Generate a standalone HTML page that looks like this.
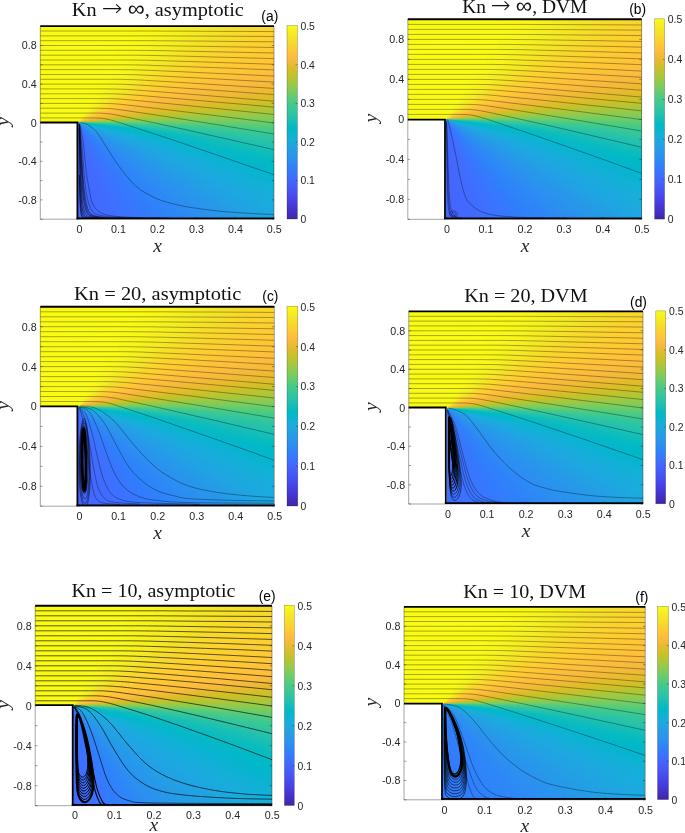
<!DOCTYPE html>
<html lang="en"><head><meta charset="utf-8"><title>Flow over a backward-facing step</title>
<style>
html,body{margin:0;padding:0;background:#fff}
#fig{position:relative;width:685px;height:833px;overflow:hidden;background:#fff}
.fld{position:absolute}
svg{position:absolute;left:0;top:0}
.t{font-family:"Liberation Sans",Arial,Helvetica,sans-serif;font-size:10.7px;fill:#262626}
.c{font-size:10.4px}
.pl{font-family:"Liberation Sans",Arial,Helvetica,sans-serif;font-size:13.8px;fill:#000}
.m{font-family:"Liberation Serif","DejaVu Serif",serif;font-style:italic;font-size:19.5px;fill:#262626}
.sy{font-family:"DejaVu Sans","Liberation Sans",sans-serif;font-weight:200}
.ti{font-family:"Liberation Serif","DejaVu Serif",serif;font-size:18.7px;fill:#111}
</style></head><body>
<div id="fig">
<div class="fld" style="left:40.3px;top:26.2px;width:233.7px;height:193px;background:linear-gradient(165deg,#f9fb15 35%,#fdb92f 47%,#12bebb 62%,#2e6ffb 92%);background:conic-gradient(from 0deg at 37.7px 96.3px,#f9fb15 0deg,#f9fb15 2deg,#f9fb15 4deg,#f9fb15 6deg,#f9fb15 8deg,#f9fb15 10deg,#f9fb15 12deg,#f9fb15 14deg,#f9fb15 16deg,#f9fb15 18deg,#f9fb15 20deg,#f9fb15 22deg,#f9fb15 24deg,#f9fb15 26deg,#f9fb15 28deg,#f9fa15 30deg,#f9fa16 32deg,#f9f916 34deg,#f8f917 36deg,#f8f818 38deg,#f8f719 40deg,#f7f51b 42deg,#f7f41c 44deg,#f6f21e 46deg,#f6f01f 48deg,#f5ee21 50deg,#f5eb23 52deg,#f5ea24 53deg,#f5e825 54deg,#f5e626 55deg,#f5e526 56deg,#f5e327 57deg,#f6e128 58deg,#f6df29 59deg,#f7dd2a 60deg,#f7db2b 61deg,#f8d92c 62deg,#f9d72d 63deg,#fad52e 64deg,#fbd32e 65deg,#fcd12f 66deg,#fccf30 67deg,#fdce31 68deg,#fdcc32 69deg,#feca33 70deg,#fec834 71deg,#fec636 72deg,#fec437 73deg,#fec239 74deg,#fec03b 75deg,#febd3c 76deg,#fbbc3d 77deg,#f8ba3d 78deg,#f5ba3a 79deg,#f0ba36 80deg,#ebba31 81deg,#e4bb2c 82deg,#dbbd28 83deg,#cfc028 84deg,#c2c22c 85deg,#b3c534 86deg,#a4c83e 87deg,#92ca4b 88deg,#80cc59 89deg,#6dcd68 90deg,#5bcc77 91deg,#4acb84 92deg,#3eca90 93deg,#35c799 94deg,#30c5a2 95deg,#2ac3a9 96deg,#23c1af 97deg,#1bc0b4 98deg,#12beb9 99deg,#0abdbd 100deg,#04bbc1 101deg,#02bac5 102deg,#01b8c8 103deg,#02b7cb 104deg,#05b6ce 105deg,#08b5d0 106deg,#0bb3d2 107deg,#0fb2d5 108deg,#12b1d7 109deg,#15afd8 110deg,#17aeda 111deg,#19addc 112deg,#1aacdd 113deg,#1baade 114deg,#1da8e0 115deg,#1ea6e1 116deg,#20a4e3 117deg,#22a2e4 118deg,#23a0e5 119deg,#249ee6 120deg,#259be7 121deg,#269ae9 122deg,#2798ea 123deg,#2896ec 124deg,#2994ed 125deg,#2a92ee 126deg,#2b91ef 127deg,#2c8ff1 128deg,#2d8df2 129deg,#2d8cf3 130deg,#2d8af4 131deg,#2d89f5 132deg,#2d87f6 133deg,#2e86f7 134deg,#2e85f8 135deg,#2e83f9 136deg,#2f82fa 137deg,#2f81fa 138deg,#307ffb 139deg,#317efb 140deg,#327cfc 142deg,#347afd 144deg,#3678fe 146deg,#3876fe 148deg,#3974fe 150deg,#3b73fe 152deg,#3c71ff 154deg,#3e70ff 156deg,#3f6eff 158deg,#406dfe 160deg,#406cfe 162deg,#416bfe 164deg,#426afe 166deg,#4269fe 168deg,#4368fe 170deg,#4368fe 172deg,#4367fd 174deg,#4367fd 176deg,#4466fd 178deg,#4466fd 180deg,#fff 180.1deg,#fff 269.9deg,#f9fb15 270deg,#f9fb15 360deg)"></div>
<div class="fld" style="left:40.3px;top:26.2px;width:233.7px;height:193px;background:conic-gradient(from 0deg at 37.7px 96.3px,#f9fb15 0deg,#f9fb15 2deg,#f9fb15 4deg,#f9fb15 6deg,#f9fb15 8deg,#f9fb15 10deg,#f9fb15 12deg,#f9fb15 14deg,#f9fb15 16deg,#f9fb15 18deg,#f9fb15 20deg,#f9fb15 22deg,#f9fb15 24deg,#f9fb15 26deg,#f9fb15 28deg,#f9fa15 30deg,#f9fa16 32deg,#f9f916 34deg,#f8f917 36deg,#f8f818 38deg,#f8f719 40deg,#f7f51b 42deg,#f7f41c 44deg,#f6f21e 46deg,#f6f01f 48deg,#f5ee21 50deg,#f5eb23 52deg,#f5ea24 53deg,#f5e825 54deg,#f5e626 55deg,#f5e427 56deg,#f5e227 57deg,#f6e028 58deg,#f6de29 59deg,#f7db2a 60deg,#f8d92c 61deg,#f9d62d 62deg,#fad42e 63deg,#fbd22f 64deg,#fccf30 65deg,#fdcd31 66deg,#fdcb32 67deg,#fec934 68deg,#fec735 69deg,#fec537 70deg,#fec338 71deg,#fec03a 72deg,#febe3c 73deg,#fcbc3d 74deg,#fabb3d 75deg,#f8ba3d 76deg,#f5ba3a 77deg,#f2ba37 78deg,#eeba34 79deg,#ebba31 80deg,#e6bb2d 81deg,#dfbc2a 82deg,#d6be28 83deg,#cbc029 84deg,#bfc32d 85deg,#b2c635 86deg,#a3c83f 87deg,#92ca4b 88deg,#80cc59 89deg,#6dcd68 90deg,#4fcc80 91deg,#3ac994 92deg,#2fc5a3 93deg,#25c2ae 94deg,#18bfb6 95deg,#0abdbd 96deg,#02bac3 97deg,#01b9c7 98deg,#02b7cb 99deg,#06b5ce 100deg,#0ab4d1 101deg,#0fb2d4 102deg,#13b1d7 103deg,#15afd9 104deg,#18aedb 105deg,#19acdc 106deg,#1babde 107deg,#1ca9e0 108deg,#1ea7e1 109deg,#1fa5e2 110deg,#21a4e3 111deg,#22a2e4 112deg,#23a0e5 113deg,#249fe6 114deg,#249de6 115deg,#259ce7 116deg,#269ae8 117deg,#2699e9 118deg,#2797ea 119deg,#2896eb 120deg,#2995ec 121deg,#2a93ed 122deg,#2a92ee 123deg,#2b91ef 124deg,#2c90f0 125deg,#2c8ef1 126deg,#2d8df2 127deg,#2d8cf3 128deg,#2d8bf4 129deg,#2d89f5 130deg,#2d88f6 131deg,#2e87f7 132deg,#2e86f7 133deg,#2e85f8 134deg,#2e84f8 135deg,#2e83f9 136deg,#2f82fa 137deg,#2f81fa 138deg,#307ffb 139deg,#317efb 140deg,#327cfc 142deg,#347afd 144deg,#3678fe 146deg,#3876fe 148deg,#3974fe 150deg,#3b73fe 152deg,#3c71ff 154deg,#3e70ff 156deg,#3f6eff 158deg,#406dfe 160deg,#406cfe 162deg,#416bfe 164deg,#426afe 166deg,#4269fe 168deg,#4368fe 170deg,#4368fe 172deg,#4367fd 174deg,#4367fd 176deg,#4466fd 178deg,#4466fd 180deg,#fff 180.1deg,#fff 269.9deg,#f9fb15 270deg,#f9fb15 360deg);-webkit-mask-image:radial-gradient(circle at 37.7px 96.3px,#000 50px,transparent 200px);mask-image:radial-gradient(circle at 37.7px 96.3px,#000 50px,transparent 200px)"></div>
<div class="fld" style="left:407.8px;top:19.4px;width:233.8px;height:199.9px;background:linear-gradient(165deg,#f9fb15 35%,#fdb92f 47%,#12bebb 62%,#2e6ffb 92%);background:conic-gradient(from 0deg at 37.8px 100.3px,#f9fb15 0deg,#f9fb15 2deg,#f9fb15 4deg,#f9fb15 6deg,#f9fb15 8deg,#f9fb15 10deg,#f9fb15 12deg,#f9fb15 14deg,#f9fb15 16deg,#f9fb15 18deg,#f9fb15 20deg,#f9fb15 22deg,#f9fb15 24deg,#f9fb15 26deg,#f9fa15 28deg,#f9fa15 30deg,#f9fa16 32deg,#f9f916 34deg,#f8f817 36deg,#f8f718 38deg,#f8f61a 40deg,#f7f51b 42deg,#f7f31d 44deg,#f6f11e 46deg,#f6ef20 48deg,#f5ec22 50deg,#f5ea24 52deg,#f5e825 53deg,#f5e625 54deg,#f5e526 55deg,#f5e327 56deg,#f5e128 57deg,#f6df29 58deg,#f7dd2a 59deg,#f7db2b 60deg,#f8d92c 61deg,#f9d72c 62deg,#fad52d 63deg,#fbd32e 64deg,#fbd22f 65deg,#fcd030 66deg,#fdce31 67deg,#fdcd32 68deg,#fdcb33 69deg,#fec934 70deg,#fec735 71deg,#fec537 72deg,#fec338 73deg,#fec13a 74deg,#febf3c 75deg,#fdbd3d 76deg,#fabb3d 77deg,#f7ba3c 78deg,#f3ba39 79deg,#efba35 80deg,#e9bb30 81deg,#e2bc2b 82deg,#d8be28 83deg,#cdc028 84deg,#c0c32d 85deg,#b1c635 86deg,#a2c840 87deg,#91ca4c 88deg,#7fcc5a 89deg,#6dcd68 90deg,#5bcc76 91deg,#4bcb83 92deg,#3fca8e 93deg,#36c898 94deg,#31c6a1 95deg,#2bc3a8 96deg,#25c2ae 97deg,#1dc0b3 98deg,#15bfb8 99deg,#0cbdbc 100deg,#06bcc0 101deg,#02bac4 102deg,#01b9c7 103deg,#01b8ca 104deg,#04b6cd 105deg,#06b5cf 106deg,#09b4d1 107deg,#0db3d3 108deg,#11b2d5 109deg,#13b0d7 110deg,#15afd9 111deg,#18aedb 112deg,#19addc 113deg,#1aabdd 114deg,#1caadf 115deg,#1da8e0 116deg,#1fa6e2 117deg,#20a4e3 118deg,#22a2e4 119deg,#239fe5 120deg,#249de6 121deg,#259be8 122deg,#2699e9 123deg,#2798ea 124deg,#2896ec 125deg,#2994ed 126deg,#2a92ee 127deg,#2b91ef 128deg,#2c8ff1 129deg,#2d8df2 130deg,#2d8cf3 131deg,#2d8af4 132deg,#2d89f5 133deg,#2d87f7 134deg,#2e86f7 135deg,#2e85f8 136deg,#2e83f9 137deg,#2f82fa 138deg,#2f81fa 139deg,#307ffb 140deg,#317dfc 142deg,#337bfd 144deg,#3579fd 146deg,#3777fe 148deg,#3975fe 150deg,#3a73fe 152deg,#3c72ff 154deg,#3d70ff 156deg,#3e6fff 158deg,#3f6dfe 160deg,#406cfe 162deg,#416bfe 164deg,#426afe 166deg,#4269fe 168deg,#4368fe 170deg,#4368fe 172deg,#4367fd 174deg,#4367fd 176deg,#4466fd 178deg,#4466fd 180deg,#fff 180.1deg,#fff 269.9deg,#f9fb15 270deg,#f9fb15 360deg)"></div>
<div class="fld" style="left:407.8px;top:19.4px;width:233.8px;height:199.9px;background:conic-gradient(from 0deg at 37.8px 100.3px,#f9fb15 0deg,#f9fb15 2deg,#f9fb15 4deg,#f9fb15 6deg,#f9fb15 8deg,#f9fb15 10deg,#f9fb15 12deg,#f9fb15 14deg,#f9fb15 16deg,#f9fb15 18deg,#f9fb15 20deg,#f9fb15 22deg,#f9fb15 24deg,#f9fb15 26deg,#f9fa15 28deg,#f9fa15 30deg,#f9fa16 32deg,#f9f916 34deg,#f8f817 36deg,#f8f718 38deg,#f8f61a 40deg,#f7f51b 42deg,#f7f31d 44deg,#f6f11e 46deg,#f6ef20 48deg,#f5ec22 50deg,#f5ea24 52deg,#f5e825 53deg,#f5e626 54deg,#f5e426 55deg,#f5e227 56deg,#f6e028 57deg,#f6de29 58deg,#f7db2a 59deg,#f8d92b 60deg,#f9d72d 61deg,#fad42e 62deg,#fbd22f 63deg,#fcd030 64deg,#fdce31 65deg,#fdcc32 66deg,#feca33 67deg,#fec835 68deg,#fec636 69deg,#fec438 70deg,#fec13a 71deg,#febf3b 72deg,#fdbd3d 73deg,#fbbc3d 74deg,#f9bb3d 75deg,#f7ba3c 76deg,#f3ba39 77deg,#f0ba36 78deg,#edba33 79deg,#e9bb30 80deg,#e4bb2c 81deg,#ddbd29 82deg,#d4bf28 83deg,#c9c129 84deg,#bdc32e 85deg,#b0c636 86deg,#a1c840 87deg,#91ca4c 88deg,#7fcc5a 89deg,#6dcd68 90deg,#50cc80 91deg,#3bc993 92deg,#30c5a2 93deg,#26c2ad 94deg,#1abfb5 95deg,#0dbdbc 96deg,#04bbc2 97deg,#01b9c6 98deg,#01b8ca 99deg,#05b6cd 100deg,#08b4d0 101deg,#0db3d3 102deg,#11b1d6 103deg,#14b0d8 104deg,#16aeda 105deg,#19addb 106deg,#1aacdd 107deg,#1baade 108deg,#1da8e0 109deg,#1fa6e1 110deg,#20a5e3 111deg,#21a3e3 112deg,#22a1e4 113deg,#23a0e5 114deg,#249ee6 115deg,#259de7 116deg,#259be7 117deg,#269ae9 118deg,#2699ea 119deg,#2797eb 120deg,#2896eb 121deg,#2995ec 122deg,#2a93ed 123deg,#2b92ee 124deg,#2b91ef 125deg,#2c8ff0 126deg,#2c8ef1 127deg,#2d8df2 128deg,#2d8cf3 129deg,#2d8bf4 130deg,#2d89f5 131deg,#2d88f6 132deg,#2e87f7 133deg,#2e86f7 134deg,#2e85f8 135deg,#2e84f8 136deg,#2e83f9 137deg,#2f82fa 138deg,#2f81fa 139deg,#307ffb 140deg,#317dfc 142deg,#337bfd 144deg,#3579fd 146deg,#3777fe 148deg,#3975fe 150deg,#3a73fe 152deg,#3c72ff 154deg,#3d70ff 156deg,#3e6fff 158deg,#3f6dfe 160deg,#406cfe 162deg,#416bfe 164deg,#426afe 166deg,#4269fe 168deg,#4368fe 170deg,#4368fe 172deg,#4367fd 174deg,#4367fd 176deg,#4466fd 178deg,#4466fd 180deg,#fff 180.1deg,#fff 269.9deg,#f9fb15 270deg,#f9fb15 360deg);-webkit-mask-image:radial-gradient(circle at 37.8px 100.3px,#000 50px,transparent 200px);mask-image:radial-gradient(circle at 37.8px 100.3px,#000 50px,transparent 200px)"></div>
<div class="fld" style="left:40.3px;top:306.8px;width:234.1px;height:199.4px;background:linear-gradient(165deg,#f9fb15 35%,#fdb92f 47%,#12bebb 62%,#2e6ffb 92%);background:conic-gradient(from 0deg at 37.7px 99.5px,#f9fb15 0deg,#f9fb15 2deg,#f9fb15 4deg,#f9fb15 6deg,#f9fb15 8deg,#f9fb15 10deg,#f9fb15 12deg,#f9fb15 14deg,#f9fb15 16deg,#f9fb15 18deg,#f9fb15 20deg,#f9fb15 22deg,#f9fb15 24deg,#f9fb15 26deg,#f9fa15 28deg,#f9fa15 30deg,#f9fa16 32deg,#f9f916 34deg,#f8f817 36deg,#f8f718 38deg,#f8f61a 40deg,#f7f51b 42deg,#f7f31d 44deg,#f6f11e 46deg,#f6ef20 48deg,#f5ed22 50deg,#f5ea24 52deg,#f5e825 53deg,#f5e725 54deg,#f5e526 55deg,#f5e327 56deg,#f5e128 57deg,#f6df29 58deg,#f6dd29 59deg,#f7db2a 60deg,#f8d92b 61deg,#f9d72c 62deg,#fad52d 63deg,#fbd32e 64deg,#fbd22f 65deg,#fcd030 66deg,#fdce31 67deg,#fdcd32 68deg,#fdcb33 69deg,#fec934 70deg,#fec735 71deg,#fec537 72deg,#fec338 73deg,#fec13a 74deg,#febf3c 75deg,#fdbd3d 76deg,#fabb3d 77deg,#f7ba3c 78deg,#f3ba39 79deg,#efba35 80deg,#e9bb30 81deg,#e2bc2b 82deg,#d8be28 83deg,#cdc028 84deg,#c0c32d 85deg,#b2c635 86deg,#a2c83f 87deg,#91ca4c 88deg,#7fcc5a 89deg,#6dcd68 90deg,#5bcc76 91deg,#4bcb83 92deg,#3eca8f 93deg,#36c898 94deg,#31c5a1 95deg,#2bc3a8 96deg,#25c2ae 97deg,#1cc0b3 98deg,#14bfb8 99deg,#0cbdbc 100deg,#06bcc0 101deg,#02bac4 102deg,#01b9c7 103deg,#01b8ca 104deg,#04b6cd 105deg,#06b5cf 106deg,#0ab4d1 107deg,#0db3d4 108deg,#11b1d6 109deg,#13b0d7 110deg,#16afd9 111deg,#18aedb 112deg,#19acdc 113deg,#1aabdd 114deg,#1caadf 115deg,#1da8e0 116deg,#1fa6e2 117deg,#21a4e3 118deg,#22a1e4 119deg,#249fe5 120deg,#249de7 121deg,#259be8 122deg,#2699e9 123deg,#2797ea 124deg,#2896ec 125deg,#2994ed 126deg,#2b92ee 127deg,#2b90ef 128deg,#2c8ff1 129deg,#2d8df2 130deg,#2d8cf3 131deg,#2d8af4 132deg,#2d89f6 133deg,#2e87f7 134deg,#2e86f7 135deg,#2e84f8 136deg,#2e83f9 137deg,#2f82fa 138deg,#2f80fa 139deg,#307ffb 140deg,#317dfc 142deg,#337bfd 144deg,#3579fd 146deg,#3777fe 148deg,#3975fe 150deg,#3a73fe 152deg,#3c72ff 154deg,#3d70ff 156deg,#3f6fff 158deg,#3f6dfe 160deg,#406cfe 162deg,#416bfe 164deg,#426afe 166deg,#4269fe 168deg,#4368fe 170deg,#4368fe 172deg,#4367fd 174deg,#4367fd 176deg,#4466fd 178deg,#4466fd 180deg,#fff 180.1deg,#fff 269.9deg,#f9fb15 270deg,#f9fb15 360deg)"></div>
<div class="fld" style="left:40.3px;top:306.8px;width:234.1px;height:199.4px;background:conic-gradient(from 0deg at 37.7px 99.5px,#f9fb15 0deg,#f9fb15 2deg,#f9fb15 4deg,#f9fb15 6deg,#f9fb15 8deg,#f9fb15 10deg,#f9fb15 12deg,#f9fb15 14deg,#f9fb15 16deg,#f9fb15 18deg,#f9fb15 20deg,#f9fb15 22deg,#f9fb15 24deg,#f9fb15 26deg,#f9fa15 28deg,#f9fa15 30deg,#f9fa16 32deg,#f9f916 34deg,#f8f817 36deg,#f8f718 38deg,#f8f61a 40deg,#f7f51b 42deg,#f7f31d 44deg,#f6f11e 46deg,#f6ef20 48deg,#f5ed22 50deg,#f5ea24 52deg,#f5e825 53deg,#f5e625 54deg,#f5e426 55deg,#f5e227 56deg,#f6e028 57deg,#f6de29 58deg,#f7dc2a 59deg,#f8d92b 60deg,#f9d72d 61deg,#fad52e 62deg,#fbd22f 63deg,#fcd030 64deg,#fdce31 65deg,#fdcc32 66deg,#feca33 67deg,#fec835 68deg,#fec636 69deg,#fec438 70deg,#fec239 71deg,#febf3b 72deg,#fdbd3d 73deg,#fbbc3d 74deg,#f9bb3d 75deg,#f7ba3c 76deg,#f4ba39 77deg,#f0ba36 78deg,#edba33 79deg,#e9bb30 80deg,#e4bb2c 81deg,#ddbd29 82deg,#d4bf28 83deg,#c9c129 84deg,#bdc32e 85deg,#b0c636 86deg,#a1c840 87deg,#91ca4c 88deg,#7fcc5a 89deg,#6dcd68 90deg,#50cc80 91deg,#3bc993 92deg,#30c5a2 93deg,#26c2ad 94deg,#1abfb5 95deg,#0cbdbc 96deg,#03bbc2 97deg,#01b9c7 98deg,#01b8ca 99deg,#05b6ce 100deg,#08b4d1 101deg,#0db3d3 102deg,#11b1d6 103deg,#14b0d8 104deg,#16aeda 105deg,#19addc 106deg,#1aacdd 107deg,#1caadf 108deg,#1da8e0 109deg,#1fa6e2 110deg,#20a5e3 111deg,#21a3e3 112deg,#22a1e4 113deg,#23a0e5 114deg,#249ee6 115deg,#259de7 116deg,#259be8 117deg,#269ae9 118deg,#2698ea 119deg,#2797eb 120deg,#2896ec 121deg,#2994ed 122deg,#2a93ed 123deg,#2b92ee 124deg,#2b91ef 125deg,#2c8ff0 126deg,#2c8ef1 127deg,#2d8df2 128deg,#2d8cf3 129deg,#2d8af4 130deg,#2d89f5 131deg,#2d88f6 132deg,#2e87f7 133deg,#2e86f7 134deg,#2e85f8 135deg,#2e84f9 136deg,#2e83f9 137deg,#2f82fa 138deg,#2f80fa 139deg,#307ffb 140deg,#317dfc 142deg,#337bfd 144deg,#3579fd 146deg,#3777fe 148deg,#3975fe 150deg,#3a73fe 152deg,#3c72ff 154deg,#3d70ff 156deg,#3f6fff 158deg,#3f6dfe 160deg,#406cfe 162deg,#416bfe 164deg,#426afe 166deg,#4269fe 168deg,#4368fe 170deg,#4368fe 172deg,#4367fd 174deg,#4367fd 176deg,#4466fd 178deg,#4466fd 180deg,#fff 180.1deg,#fff 269.9deg,#f9fb15 270deg,#f9fb15 360deg);-webkit-mask-image:radial-gradient(circle at 37.7px 99.5px,#000 50px,transparent 200px);mask-image:radial-gradient(circle at 37.7px 99.5px,#000 50px,transparent 200px)"></div>
<div class="fld" style="left:408.7px;top:311.5px;width:234.3px;height:192.5px;background:linear-gradient(165deg,#f9fb15 35%,#fdb92f 47%,#12bebb 62%,#2e6ffb 92%);background:conic-gradient(from 0deg at 37.7px 96px,#f9fb15 0deg,#f9fb15 2deg,#f9fb15 4deg,#f9fb15 6deg,#f9fb15 8deg,#f9fb15 10deg,#f9fb15 12deg,#f9fb15 14deg,#f9fb15 16deg,#f9fb15 18deg,#f9fb15 20deg,#f9fb15 22deg,#f9fb15 24deg,#f9fb15 26deg,#f9fb15 28deg,#f9fa15 30deg,#f9fa16 32deg,#f9f916 34deg,#f8f917 36deg,#f8f818 38deg,#f8f719 40deg,#f7f61a 42deg,#f7f41c 44deg,#f6f21d 46deg,#f6f01f 48deg,#f5ee21 50deg,#f5eb23 52deg,#f5ea24 53deg,#f5e825 54deg,#f5e625 55deg,#f5e526 56deg,#f5e327 57deg,#f5e128 58deg,#f6df29 59deg,#f7dd2a 60deg,#f7db2b 61deg,#f8d92c 62deg,#f9d72d 63deg,#fad52d 64deg,#fbd32e 65deg,#fbd12f 66deg,#fcd030 67deg,#fdce31 68deg,#fdcc32 69deg,#feca33 70deg,#fec834 71deg,#fec636 72deg,#fec437 73deg,#fec239 74deg,#fec03b 75deg,#febe3c 76deg,#fbbc3d 77deg,#f9ba3d 78deg,#f5ba3a 79deg,#f1ba37 80deg,#ebba32 81deg,#e4bb2c 82deg,#dbbd29 83deg,#cfc028 84deg,#c2c22c 85deg,#b4c534 86deg,#a4c83e 87deg,#93ca4b 88deg,#80cc59 89deg,#6dcd68 90deg,#5bcc77 91deg,#4acb84 92deg,#3dca90 93deg,#35c79a 94deg,#30c5a2 95deg,#2ac3a9 96deg,#23c1af 97deg,#1ac0b5 98deg,#11beb9 99deg,#0abdbe 100deg,#04bbc2 101deg,#01bac5 102deg,#01b8c8 103deg,#02b7cb 104deg,#05b6ce 105deg,#08b4d0 106deg,#0cb3d3 107deg,#0fb2d5 108deg,#13b1d7 109deg,#15afd9 110deg,#17aeda 111deg,#19addc 112deg,#1aacdd 113deg,#1caadf 114deg,#1da8e0 115deg,#1fa6e1 116deg,#20a4e3 117deg,#22a2e4 118deg,#23a0e5 119deg,#249ee6 120deg,#259ce7 121deg,#269ae8 122deg,#2699e9 123deg,#2797ea 124deg,#2896eb 125deg,#2995ec 126deg,#2a93ed 127deg,#2b92ee 128deg,#2b91ef 129deg,#2c8ff0 130deg,#2c8ef1 131deg,#2d8df2 132deg,#2d8bf3 133deg,#2d8af4 134deg,#2d89f5 135deg,#2d88f6 136deg,#2e87f7 137deg,#2e85f8 138deg,#2e84f8 139deg,#2e83f9 140deg,#2f81fa 142deg,#3080fb 144deg,#317efb 146deg,#317dfc 148deg,#327bfc 150deg,#347afd 152deg,#3578fd 154deg,#3777fe 156deg,#3876fe 158deg,#3975fe 160deg,#3a73fe 162deg,#3b73fe 164deg,#3c72ff 166deg,#3c71ff 168deg,#3d71ff 170deg,#3d70ff 172deg,#3e70ff 174deg,#3e6fff 176deg,#3e6fff 178deg,#3f6fff 180deg,#fff 180.1deg,#fff 269.9deg,#f9fb15 270deg,#f9fb15 360deg)"></div>
<div class="fld" style="left:408.7px;top:311.5px;width:234.3px;height:192.5px;background:conic-gradient(from 0deg at 37.7px 96px,#f9fb15 0deg,#f9fb15 2deg,#f9fb15 4deg,#f9fb15 6deg,#f9fb15 8deg,#f9fb15 10deg,#f9fb15 12deg,#f9fb15 14deg,#f9fb15 16deg,#f9fb15 18deg,#f9fb15 20deg,#f9fb15 22deg,#f9fb15 24deg,#f9fb15 26deg,#f9fb15 28deg,#f9fa15 30deg,#f9fa16 32deg,#f9f916 34deg,#f8f917 36deg,#f8f818 38deg,#f8f719 40deg,#f7f61a 42deg,#f7f41c 44deg,#f6f21d 46deg,#f6f01f 48deg,#f5ee21 50deg,#f5eb23 52deg,#f5ea24 53deg,#f5e825 54deg,#f5e625 55deg,#f5e426 56deg,#f5e227 57deg,#f6e028 58deg,#f6de29 59deg,#f7db2a 60deg,#f8d92b 61deg,#f9d72d 62deg,#fad42e 63deg,#fbd22f 64deg,#fcd030 65deg,#fdce31 66deg,#fdcc32 67deg,#feca34 68deg,#fec735 69deg,#fec537 70deg,#fec338 71deg,#fec13a 72deg,#febe3c 73deg,#fcbc3d 74deg,#fabb3d 75deg,#f8ba3d 76deg,#f5ba3a 77deg,#f2ba38 78deg,#eeba35 79deg,#ebba31 80deg,#e6bb2d 81deg,#dfbc2a 82deg,#d6be28 83deg,#ccc028 84deg,#bfc32d 85deg,#b2c635 86deg,#a3c83f 87deg,#93ca4b 88deg,#80cc59 89deg,#6dcd68 90deg,#4fcc81 91deg,#3ac994 92deg,#2fc5a3 93deg,#24c2ae 94deg,#17bfb6 95deg,#0abdbd 96deg,#02bac4 97deg,#01b9c8 98deg,#02b7cb 99deg,#06b5cf 100deg,#0ab4d2 101deg,#0fb2d4 102deg,#13b0d7 103deg,#15afd9 104deg,#18aedb 105deg,#19acdc 106deg,#1babde 107deg,#1da9e0 108deg,#1ea7e1 109deg,#20a5e2 110deg,#21a3e3 111deg,#22a2e4 112deg,#23a0e5 113deg,#249fe5 114deg,#249ee6 115deg,#259ce7 116deg,#259be8 117deg,#269ae9 118deg,#2699e9 119deg,#2798ea 120deg,#2797eb 121deg,#2896ec 122deg,#2995ec 123deg,#2993ed 124deg,#2a92ee 125deg,#2b91ef 126deg,#2b90f0 127deg,#2c8ff0 128deg,#2c8ef1 129deg,#2d8df2 130deg,#2d8cf3 131deg,#2d8bf4 132deg,#2d8af4 133deg,#2d89f5 134deg,#2d88f6 135deg,#2d88f6 136deg,#2e87f7 137deg,#2e85f8 138deg,#2e84f8 139deg,#2e83f9 140deg,#2f81fa 142deg,#3080fb 144deg,#317efb 146deg,#317dfc 148deg,#327bfc 150deg,#347afd 152deg,#3578fd 154deg,#3777fe 156deg,#3876fe 158deg,#3975fe 160deg,#3a73fe 162deg,#3b73fe 164deg,#3c72ff 166deg,#3c71ff 168deg,#3d71ff 170deg,#3d70ff 172deg,#3e70ff 174deg,#3e6fff 176deg,#3e6fff 178deg,#3f6fff 180deg,#fff 180.1deg,#fff 269.9deg,#f9fb15 270deg,#f9fb15 360deg);-webkit-mask-image:radial-gradient(circle at 37.7px 96px,#000 50px,transparent 200px);mask-image:radial-gradient(circle at 37.7px 96px,#000 50px,transparent 200px)"></div>
<div class="fld" style="left:35.2px;top:605.8px;width:236.8px;height:199.9px;background:linear-gradient(165deg,#f9fb15 35%,#fdb92f 47%,#12bebb 62%,#2e6ffb 92%);background:conic-gradient(from 0deg at 38.1px 99.4px,#f9fb15 0deg,#f9fb15 2deg,#f9fb15 4deg,#f9fb15 6deg,#f9fb15 8deg,#f9fb15 10deg,#f9fb15 12deg,#f9fb15 14deg,#f9fb15 16deg,#f9fb15 18deg,#f9fb15 20deg,#f9fb15 22deg,#f9fb15 24deg,#f9fb15 26deg,#f9fa15 28deg,#f9fa16 30deg,#f9f916 32deg,#f8f817 34deg,#f8f718 36deg,#f8f61a 38deg,#f7f51b 40deg,#f7f41c 42deg,#f6f21d 44deg,#f6f11f 46deg,#f6ef20 48deg,#f5ed22 50deg,#f5eb23 52deg,#f5e924 53deg,#f5e825 54deg,#f5e725 55deg,#f5e526 56deg,#f5e427 57deg,#f5e227 58deg,#f6e028 59deg,#f6df29 60deg,#f6dd29 61deg,#f7dc2a 62deg,#f8da2b 63deg,#f8d92b 64deg,#f9d82c 65deg,#f9d72d 66deg,#fad62d 67deg,#fad52e 68deg,#fbd32e 69deg,#fbd22f 70deg,#fcd12f 71deg,#fccf30 72deg,#fdce31 73deg,#fdcc32 74deg,#fdcb33 75deg,#fec934 76deg,#fec735 77deg,#fec537 78deg,#fec338 79deg,#fec13a 80deg,#febe3c 81deg,#fabc3d 82deg,#f4ba3a 83deg,#ebba32 84deg,#e1bc2b 85deg,#d5be28 86deg,#c7c129 87deg,#b8c431 88deg,#a7c73c 89deg,#94ca4a 90deg,#80cc59 91deg,#6ccd68 92deg,#5bcc76 93deg,#4bcb84 94deg,#3eca8f 95deg,#36c898 96deg,#31c6a0 97deg,#2cc4a7 98deg,#26c2ad 99deg,#1fc0b2 100deg,#18bfb6 101deg,#11beba 102deg,#0abdbd 103deg,#06bcc0 104deg,#03bbc3 105deg,#01bac5 106deg,#01b9c8 107deg,#01b8ca 108deg,#03b7cc 109deg,#06b5ce 110deg,#08b4d0 111deg,#0bb3d2 112deg,#0eb2d4 113deg,#11b1d6 114deg,#14b0d8 115deg,#16afd9 116deg,#18aedb 117deg,#19addc 118deg,#1aabdd 119deg,#1baadf 120deg,#1da9e0 121deg,#1ea8e1 122deg,#1ea6e1 123deg,#1fa5e2 124deg,#20a4e3 125deg,#21a3e3 126deg,#22a2e4 127deg,#23a1e4 128deg,#239fe5 129deg,#249ee6 130deg,#249de7 131deg,#259ce7 132deg,#269ae8 133deg,#2699e9 134deg,#2798ea 135deg,#2796eb 136deg,#2895ec 137deg,#2994ed 138deg,#2a92ee 139deg,#2b91ef 140deg,#2c8ff1 142deg,#2d8cf3 144deg,#2d89f5 146deg,#2e87f7 148deg,#2e84f8 150deg,#2f82fa 152deg,#3080fb 154deg,#317dfc 156deg,#337bfc 158deg,#3579fd 160deg,#3777fe 162deg,#3975fe 164deg,#3b73fe 166deg,#3c71ff 168deg,#3e70ff 170deg,#3f6fff 172deg,#3f6dfe 174deg,#406dfe 176deg,#406cfe 178deg,#416bfe 180deg,#fff 180.1deg,#fff 269.9deg,#f9fb15 270deg,#f9fb15 360deg)"></div>
<div class="fld" style="left:35.2px;top:605.8px;width:236.8px;height:199.9px;background:conic-gradient(from 0deg at 38.1px 99.4px,#f9fb15 0deg,#f9fb15 2deg,#f9fb15 4deg,#f9fb15 6deg,#f9fb15 8deg,#f9fb15 10deg,#f9fb15 12deg,#f9fb15 14deg,#f9fb15 16deg,#f9fb15 18deg,#f9fb15 20deg,#f9fb15 22deg,#f9fb15 24deg,#f9fb15 26deg,#f9fa15 28deg,#f9fa16 30deg,#f9f916 32deg,#f8f817 34deg,#f8f718 36deg,#f8f61a 38deg,#f7f51b 40deg,#f7f41c 42deg,#f6f21d 44deg,#f6f11f 46deg,#f6ef20 48deg,#f5ed22 50deg,#f5eb23 52deg,#f5e924 53deg,#f5e825 54deg,#f5e626 55deg,#f5e526 56deg,#f5e327 57deg,#f6e128 58deg,#f6df29 59deg,#f7dd2a 60deg,#f7db2a 61deg,#f8d92b 62deg,#f9d72c 63deg,#fad62d 64deg,#fad42e 65deg,#fbd32e 66deg,#fbd12f 67deg,#fcd030 68deg,#fdce31 69deg,#fdcd32 70deg,#fdcb33 71deg,#fec934 72deg,#fec735 73deg,#fec636 74deg,#fec537 75deg,#fec338 76deg,#fec239 77deg,#fec03a 78deg,#febf3b 79deg,#febd3c 80deg,#fbbc3d 81deg,#f7ba3d 82deg,#f1ba37 83deg,#e9bb2f 84deg,#dfbc2a 85deg,#d4bf27 86deg,#c7c12a 87deg,#b8c431 88deg,#a7c73c 89deg,#94ca4a 90deg,#72cd64 91deg,#54cc7c 92deg,#3dc990 93deg,#32c69f 94deg,#2ac3a9 95deg,#1fc1b1 96deg,#14beb8 97deg,#0bbdbc 98deg,#06bcc0 99deg,#02bac4 100deg,#01b9c7 101deg,#01b8ca 102deg,#04b6cd 103deg,#06b5cf 104deg,#09b4d1 105deg,#0db3d3 106deg,#10b2d5 107deg,#13b0d7 108deg,#15afd9 109deg,#17aeda 110deg,#18addb 111deg,#19acdc 112deg,#1aabdd 113deg,#1baade 114deg,#1caadf 115deg,#1da9e0 116deg,#1da8e0 117deg,#1ea7e1 118deg,#1fa6e2 119deg,#1fa5e2 120deg,#20a4e3 121deg,#21a4e3 122deg,#21a3e3 123deg,#22a2e4 124deg,#23a1e4 125deg,#23a0e5 126deg,#249fe5 127deg,#249ee6 128deg,#249de7 129deg,#259ce7 130deg,#259be8 131deg,#269ae8 132deg,#2699e9 133deg,#2798ea 134deg,#2797eb 135deg,#2896eb 136deg,#2895ec 137deg,#2994ed 138deg,#2a92ee 139deg,#2b91ef 140deg,#2c8ff1 142deg,#2d8cf3 144deg,#2d89f5 146deg,#2e87f7 148deg,#2e84f8 150deg,#2f82fa 152deg,#3080fb 154deg,#317dfc 156deg,#337bfc 158deg,#3579fd 160deg,#3777fe 162deg,#3975fe 164deg,#3b73fe 166deg,#3c71ff 168deg,#3e70ff 170deg,#3f6fff 172deg,#3f6dfe 174deg,#406dfe 176deg,#406cfe 178deg,#416bfe 180deg,#fff 180.1deg,#fff 269.9deg,#f9fb15 270deg,#f9fb15 360deg);-webkit-mask-image:radial-gradient(circle at 38.1px 99.4px,#000 50px,transparent 200px);mask-image:radial-gradient(circle at 38.1px 99.4px,#000 50px,transparent 200px)"></div>
<div class="fld" style="left:404px;top:607px;width:241.3px;height:192.8px;background:linear-gradient(165deg,#f9fb15 35%,#fdb92f 47%,#12bebb 62%,#2e6ffb 92%);background:conic-gradient(from 0deg at 38.6px 96.7px,#f9fb15 0deg,#f9fb15 2deg,#f9fb15 4deg,#f9fb15 6deg,#f9fb15 8deg,#f9fb15 10deg,#f9fb15 12deg,#f9fb15 14deg,#f9fb15 16deg,#f9fb15 18deg,#f9fb15 20deg,#f9fb15 22deg,#f9fb15 24deg,#f9fb15 26deg,#f9fb15 28deg,#f9fa15 30deg,#f9fa15 32deg,#f9fa16 34deg,#f8f917 36deg,#f8f817 38deg,#f8f718 40deg,#f8f61a 42deg,#f7f51b 44deg,#f7f31d 46deg,#f6f11f 48deg,#f5ef20 50deg,#f5ec22 52deg,#f5eb23 53deg,#f5e924 54deg,#f5e825 55deg,#f5e626 56deg,#f5e426 57deg,#f5e227 58deg,#f6e128 59deg,#f6df29 60deg,#f7dc2a 61deg,#f8da2b 62deg,#f9d82c 63deg,#f9d62d 64deg,#fad42e 65deg,#fbd22f 66deg,#fcd130 67deg,#fccf30 68deg,#fdcd31 69deg,#fdcb33 70deg,#fec934 71deg,#fec735 72deg,#fec537 73deg,#fec338 74deg,#fec13a 75deg,#febf3c 76deg,#fcbd3d 77deg,#fabb3d 78deg,#f6ba3b 79deg,#f2ba38 80deg,#edba33 81deg,#e6bb2d 82deg,#ddbd29 83deg,#d2bf27 84deg,#c4c22b 85deg,#b6c533 86deg,#a5c83d 87deg,#94ca4a 88deg,#81cc59 89deg,#6dcd68 90deg,#5acc77 91deg,#49cb85 92deg,#3dc991 93deg,#35c79b 94deg,#2fc5a3 95deg,#29c3aa 96deg,#21c1b0 97deg,#18bfb6 98deg,#0fbeba 99deg,#08bcbf 100deg,#03bbc3 101deg,#01b9c6 102deg,#01b8c9 103deg,#04b6cc 104deg,#06b5cf 105deg,#0ab4d1 106deg,#0db3d4 107deg,#11b1d6 108deg,#14b0d8 109deg,#16afd9 110deg,#18addb 111deg,#1aacdd 112deg,#1babde 113deg,#1ca9df 114deg,#1da8e0 115deg,#1fa6e1 116deg,#20a5e3 117deg,#21a3e3 118deg,#22a1e4 119deg,#23a0e5 120deg,#249ee6 121deg,#259de7 122deg,#259be7 123deg,#269ae8 124deg,#2699e9 125deg,#2797ea 126deg,#2796eb 127deg,#2895ec 128deg,#2994ed 129deg,#2a93ee 130deg,#2b92ee 131deg,#2b91ef 132deg,#2c90f0 133deg,#2c8ff1 134deg,#2c8ef2 135deg,#2d8df2 136deg,#2d8cf3 137deg,#2d8bf4 138deg,#2d8af4 139deg,#2d89f5 140deg,#2d88f6 142deg,#2e87f7 144deg,#2e86f8 146deg,#2e85f8 148deg,#2e84f9 150deg,#2e83f9 152deg,#2f82fa 154deg,#2f81fa 156deg,#3080fa 158deg,#307ffb 160deg,#307efb 162deg,#317efb 164deg,#317dfc 166deg,#317dfc 168deg,#327cfc 170deg,#327cfc 172deg,#327bfc 174deg,#337bfc 176deg,#337bfd 178deg,#337afd 180deg,#fff 180.1deg,#fff 269.9deg,#f9fb15 270deg,#f9fb15 360deg)"></div>
<div class="fld" style="left:404px;top:607px;width:241.3px;height:192.8px;background:conic-gradient(from 0deg at 38.6px 96.7px,#f9fb15 0deg,#f9fb15 2deg,#f9fb15 4deg,#f9fb15 6deg,#f9fb15 8deg,#f9fb15 10deg,#f9fb15 12deg,#f9fb15 14deg,#f9fb15 16deg,#f9fb15 18deg,#f9fb15 20deg,#f9fb15 22deg,#f9fb15 24deg,#f9fb15 26deg,#f9fb15 28deg,#f9fa15 30deg,#f9fa15 32deg,#f9fa16 34deg,#f8f917 36deg,#f8f817 38deg,#f8f718 40deg,#f8f61a 42deg,#f7f51b 44deg,#f7f31d 46deg,#f6f11f 48deg,#f5ef20 50deg,#f5ec22 52deg,#f5eb23 53deg,#f5e924 54deg,#f5e825 55deg,#f5e626 56deg,#f5e427 57deg,#f5e228 58deg,#f6df29 59deg,#f7dd2a 60deg,#f7db2b 61deg,#f9d82c 62deg,#fad62d 63deg,#fbd32e 64deg,#fcd12f 65deg,#fccf30 66deg,#fdcd32 67deg,#fdcb33 68deg,#fec934 69deg,#fec636 70deg,#fec437 71deg,#fec239 72deg,#febf3b 73deg,#fdbd3d 74deg,#fbbc3d 75deg,#f9bb3d 76deg,#f6ba3b 77deg,#f3ba38 78deg,#efba36 79deg,#ecba32 80deg,#e7bb2e 81deg,#e1bc2b 82deg,#d8be28 83deg,#cec028 84deg,#c1c32c 85deg,#b4c534 86deg,#a4c83e 87deg,#94ca4a 88deg,#81cc59 89deg,#6dcd68 90deg,#4ecc81 91deg,#39c895 92deg,#2ec4a4 93deg,#23c1af 94deg,#15bfb7 95deg,#08bcbe 96deg,#02bac4 97deg,#01b8c9 98deg,#03b7cc 99deg,#07b5cf 100deg,#0bb3d2 101deg,#10b2d5 102deg,#14b0d8 103deg,#16afda 104deg,#18addb 105deg,#1aacdd 106deg,#1baade 107deg,#1da9e0 108deg,#1ea7e1 109deg,#1fa6e2 110deg,#20a5e3 111deg,#21a3e3 112deg,#22a2e4 113deg,#22a1e4 114deg,#23a0e5 115deg,#249fe5 116deg,#249ee6 117deg,#259de7 118deg,#259ce7 119deg,#269be8 120deg,#269ae9 121deg,#2699e9 122deg,#2798ea 123deg,#2797eb 124deg,#2896ec 125deg,#2995ec 126deg,#2994ed 127deg,#2a93ee 128deg,#2b92ee 129deg,#2b91ef 130deg,#2b90ef 131deg,#2c90f0 132deg,#2c8ff1 133deg,#2c8ef1 134deg,#2d8df2 135deg,#2d8df2 136deg,#2d8cf3 137deg,#2d8bf4 138deg,#2d8af4 139deg,#2d89f5 140deg,#2d88f6 142deg,#2e87f7 144deg,#2e86f8 146deg,#2e85f8 148deg,#2e84f9 150deg,#2e83f9 152deg,#2f82fa 154deg,#2f81fa 156deg,#3080fa 158deg,#307ffb 160deg,#307efb 162deg,#317efb 164deg,#317dfc 166deg,#317dfc 168deg,#327cfc 170deg,#327cfc 172deg,#327bfc 174deg,#337bfc 176deg,#337bfd 178deg,#337afd 180deg,#fff 180.1deg,#fff 269.9deg,#f9fb15 270deg,#f9fb15 360deg);-webkit-mask-image:radial-gradient(circle at 38.6px 96.7px,#000 50px,transparent 200px);mask-image:radial-gradient(circle at 38.6px 96.7px,#000 50px,transparent 200px)"></div>
<svg width="685" height="833" viewBox="0 0 685 833">
<defs><linearGradient id="cbg" x1="0" y1="0" x2="0" y2="1"><stop offset="0%" stop-color="#f9fb15"/><stop offset="3.1%" stop-color="#f6ef20"/><stop offset="6.2%" stop-color="#f5e327"/><stop offset="9.4%" stop-color="#f9d62d"/><stop offset="12.5%" stop-color="#feca33"/><stop offset="15.6%" stop-color="#febe3c"/><stop offset="18.8%" stop-color="#f1ba37"/><stop offset="21.9%" stop-color="#debc2a"/><stop offset="25%" stop-color="#c8c129"/><stop offset="28.1%" stop-color="#afc637"/><stop offset="31.2%" stop-color="#94ca4a"/><stop offset="34.4%" stop-color="#77cc60"/><stop offset="37.5%" stop-color="#5ccc76"/><stop offset="40.6%" stop-color="#44ca8a"/><stop offset="43.8%" stop-color="#34c79c"/><stop offset="46.9%" stop-color="#28c2ab"/><stop offset="50%" stop-color="#12beb9"/><stop offset="53.1%" stop-color="#01b9c6"/><stop offset="56.2%" stop-color="#0cb3d3"/><stop offset="59.4%" stop-color="#1aacdd"/><stop offset="62.5%" stop-color="#21a3e3"/><stop offset="65.6%" stop-color="#269ae9"/><stop offset="68.8%" stop-color="#2c90f0"/><stop offset="71.9%" stop-color="#2e85f8"/><stop offset="75%" stop-color="#347afd"/><stop offset="78.1%" stop-color="#3f6efe"/><stop offset="81.2%" stop-color="#4562fc"/><stop offset="84.4%" stop-color="#4757f7"/><stop offset="87.5%" stop-color="#484cef"/><stop offset="90.6%" stop-color="#4741e5"/><stop offset="93.8%" stop-color="#4536d5"/><stop offset="96.9%" stop-color="#422ebf"/><stop offset="100%" stop-color="#3e26a8"/></linearGradient><clipPath id="cpa"><rect x="40.3" y="26.2" width="233.7" height="193"/></clipPath><clipPath id="cpb"><rect x="407.8" y="19.4" width="233.8" height="199.9"/></clipPath><clipPath id="cpc"><rect x="40.3" y="306.8" width="234.1" height="199.4"/></clipPath><clipPath id="cpd"><rect x="408.7" y="311.5" width="234.3" height="192.5"/></clipPath><clipPath id="cpe"><rect x="35.2" y="605.8" width="236.8" height="199.9"/></clipPath><clipPath id="cpf"><rect x="404" y="607" width="241.3" height="192.8"/></clipPath></defs>
<g><rect x="39.8" y="122.5" width="37.6" height="97.7" fill="#fff"/><g clip-path="url(#cpa)" fill="none" stroke="#000" stroke-opacity="0.75" stroke-width="0.45"><path d="M40.3 31 123 31 131.3 31 139.6 31 146.2 31 152 31 156.2 31 160.3 31.1 166.1 31.1 172.8 31.1 181.1 31.1 193.5 31.2 209.6 31.3 225.7 31.4 241.8 31.4 257.9 31.5 274 31.6M40.3 35.9 121.2 35.9 129.2 35.9 137.2 35.9 143.6 35.9 149.2 35.9 153.3 35.9 157.3 35.9 162.9 35.9 169.3 35.9 177.3 36 189.4 36 206.3 36.1 223.2 36.2 240.1 36.3 257.1 36.4 274 36.5M40.3 40.7 119.3 40.7 127.1 40.7 134.8 40.7 141 40.7 146.5 40.7 150.3 40.7 154.2 40.7 159.6 40.8 165.8 40.8 173.6 40.9 185.2 41 203 41.1 220.7 41.3 238.5 41.5 256.2 41.7 274 41.8M40.3 45.5 117.5 45.5 125 45.5 132.5 45.5 138.4 45.5 143.7 45.5 147.4 45.6 151.2 45.6 156.4 45.7 162.4 45.7 169.8 45.8 181.1 46 199.7 46.3 218.2 46.6 236.8 46.9 255.4 47.2 274 47.5M40.3 50.3 115.7 50.3 122.9 50.3 130.1 50.3 135.8 50.4 140.9 50.4 144.5 50.4 148.1 50.5 153.1 50.5 158.9 50.6 166.1 50.7 176.9 51 196.3 51.4 215.8 51.8 235.2 52.2 254.6 52.6 274 53M40.3 55.2 113.8 55.2 120.8 55.2 127.7 55.2 133.3 55.2 138.1 55.2 141.6 55.3 145 55.3 149.9 55.4 155.4 55.5 162.4 55.7 172.8 55.9 193 56.4 213.3 57 233.5 57.5 253.8 58.1 274 58.6M40.3 60 112 60 118.7 60 125.3 60 130.7 60 135.3 60.1 138.6 60.1 142 60.2 146.6 60.2 152 60.4 158.6 60.6 168.6 60.9 189.7 61.5 210.8 62.2 231.8 62.9 252.9 63.6 274 64.3M40.3 64.8 110.2 64.8 116.6 64.8 123 64.8 128.1 64.8 132.5 64.9 135.7 64.9 138.9 65 143.4 65.1 148.5 65.2 154.9 65.5 164.5 65.8 186.4 66.6 208.3 67.4 230.2 68.2 252.1 69.1 274 69.9M40.3 69.6 108.3 69.6 114.5 69.6 120.6 69.7 125.5 69.7 129.7 69.7 132.8 69.8 135.9 69.9 140.1 70 145 70.2 151.2 70.4 160.3 70.8 183.1 71.8 205.8 72.9 228.5 73.9 251.3 75 274 76.1M40.3 74.5 106.5 74.5 112.4 74.5 118.2 74.5 122.9 74.5 127 74.6 129.9 74.6 132.8 74.7 136.9 74.8 141.6 75 147.4 75.3 156.2 75.7 179.7 77 203.3 78.2 226.9 79.5 250.4 80.8 274 82.1M40.3 79.3 104.7 79.3 110.3 79.3 115.8 79.3 120.3 79.3 124.2 79.4 127 79.5 129.7 79.6 133.6 79.7 138.1 79.9 143.7 80.2 152 80.7 176.4 82.2 200.8 83.7 225.2 85.3 249.6 86.9 274 88.4M40.3 84.1 102.9 84.1 108.2 84.1 113.4 84.1 117.7 84.2 121.4 84.2 124 84.3 126.7 84.4 130.4 84.6 134.6 84.8 139.9 85.1 147.9 85.6 173.1 87.4 198.3 89.1 223.6 90.9 248.8 92.8 274 94.6M40.3 88.9 101 88.9 106 88.9 111.1 89 115.1 89 118.6 89.1 121.1 89.2 123.6 89.3 127.2 89.4 131.2 89.7 136.2 90 143.7 90.6 169.8 92.6 195.8 94.7 221.9 96.8 247.9 99 274 101.2M40.3 93.8 99.2 93.8 103.9 93.8 108.7 93.8 112.5 93.8 115.8 93.9 118.2 94 120.6 94.1 123.9 94.3 127.7 94.5 132.5 94.9 139.6 95.4 166.5 97.7 193.4 100 220.2 102.4 247.1 104.7 274 107.2M40.3 98.6 97.4 98.6 101.8 98.6 106.3 98.6 109.9 98.7 113 98.7 115.3 98.8 117.5 98.9 120.7 99.1 124.2 99.4 128.7 99.8 135.4 100.4 163.1 103.1 190.9 105.9 218.6 108.7 246.3 111.6 274 114.5M40.3 103.4 95.5 103.4 99.7 103.4 103.9 103.4 107.3 103.5 110.3 103.6 112.4 103.7 114.5 103.8 117.4 104 120.8 104.3 125 104.8 131.3 105.5 159.8 108.8 188.4 112.3 216.9 115.8 245.5 119.4 274 123M40.3 108.2 93.7 108.2 97.6 108.2 101.6 108.3 104.7 108.4 107.5 108.5 109.4 108.6 111.4 108.7 114.2 109 117.3 109.4 121.2 109.9 127.1 110.7 156.5 115.1 185.9 119.7 215.3 124.4 244.6 129.2 274 134M40.3 113.1 91.9 113.1 95.5 113.1 99.2 113.1 102.1 113.2 104.7 113.4 106.5 113.5 108.3 113.7 110.9 114 113.8 114.5 117.5 115.2 123 116.3 153.2 122.6 183.4 129.2 213.6 136 243.8 142.8 274 149.7M40.3 117.9 90 117.9 93.4 117.9 96.8 118 99.5 118.1 101.9 118.3 103.6 118.5 105.3 118.8 107.7 119.3 110.4 119.9 113.8 120.9 118.8 122.4 149.9 132.4 180.9 142.7 211.9 153.3 243 164 274 174.8M80.5 122.4C81.7 122.8 84.9 123.1 87.5 124.6C90.1 126.1 93.4 128.2 96.3 131.6C99.2 135 102.1 140.3 105 144.8C107.9 149.3 110.9 154.4 113.8 158.8C116.7 163.2 119.7 167.2 122.6 171C125.5 174.8 128.4 178.5 131.3 181.6C134.2 184.7 137.1 187.3 140 189.5C142.9 191.7 145.9 193.1 148.8 194.7C151.7 196.3 154.7 197.9 157.6 199.1C160.5 200.3 163.5 201.1 166.4 202C169.3 202.9 171.2 203.4 175.1 204.3C179 205.2 182.5 206.2 190 207.3C197.5 208.5 210 210.2 220 211.2C230 212.2 241 212.8 250 213.4C259 214 270 214.3 274 214.5M79.6 123.8C80.2 126.7 82.1 134 83.1 141.3C84.1 148.6 84.8 159.4 85.8 167.6C86.8 175.8 88.1 184.2 89.3 190.3C90.5 196.4 91 200.7 92.8 204.3C94.5 208 96.9 210.3 99.8 212.2C102.7 214.1 105 214.8 110.3 215.7C115.5 216.5 121.4 216.9 131.3 217.3C141.2 217.7 163.6 217.9 170 218M79.4 123.8C79.9 128.2 81.4 140.4 82.3 150C83.2 159.6 84 173.4 84.9 181.6C85.8 189.8 86.3 194.3 87.5 199.1C88.7 203.9 90.2 207.9 91.9 210.5C93.7 213.1 94.3 213.8 98 214.9C101.7 216 106.8 216.6 113.8 217.1C120.8 217.6 135.6 217.8 140 218"/><path d="M79.6 124C79.9 129.2 80.9 144.3 81.6 155C82.3 165.7 83.2 180 84 188C84.8 196 85.2 198.9 86.2 203C87.2 207.1 88.1 210.3 89.7 212.5C91.3 214.7 93 215.3 96 216.2C99 217 103.2 217.3 108 217.6C112.8 217.9 122.2 217.9 125 218" stroke-width="0.5" stroke-opacity="0.95"/><path d="M79.5 124C79.8 129.7 80.6 147 81.3 158C82 169 82.7 182.2 83.4 190C84.1 197.8 84.6 200.6 85.5 204.5C86.4 208.4 87.2 211.2 88.7 213.2C90.2 215.2 91.8 215.8 94.5 216.5C97.2 217.2 103.2 217.5 105 217.7" stroke-width="0.5" stroke-opacity="0.95"/><path d="M79.4 124C79.7 130 80.4 148.7 81 160C81.6 171.3 82.2 184.3 82.8 192C83.4 199.7 84 202.4 84.8 206C85.6 209.6 86.3 212 87.7 213.8C89.1 215.6 90.6 216.1 93 216.8C95.4 217.5 100.5 217.6 102 217.8" stroke-width="0.55" stroke-opacity="0.95"/><path d="M79.3 124C79.5 130.8 80.1 153 80.6 165C81 177 81.5 188.8 82 196C82.5 203.2 82.9 204.9 83.6 208C84.3 211.1 84.9 213.1 86 214.6C87.1 216.1 88.2 216.4 90 217C91.8 217.6 95.8 217.8 97 217.9" stroke-width="0.55" stroke-opacity="0.95"/><path d="M79.2 125C79.4 132.5 79.9 157.7 80.2 170C80.5 182.3 80.9 192.3 81.3 199C81.7 205.7 82.1 207.3 82.6 210C83.1 212.7 83.7 214.2 84.5 215.4C85.3 216.6 86.2 216.9 87.5 217.3C88.8 217.7 91.2 217.9 92 218" stroke-width="0.6" stroke-opacity="0.95"/><path d="M79.1 126C79.2 134.2 79.6 162.3 79.9 175C80.2 187.7 80.4 195.9 80.7 202C81 208.1 81.3 209.2 81.7 211.5C82.1 213.8 82.6 215 83.2 216C83.8 217 84.7 217.2 85.5 217.6C86.3 217.9 87.6 218 88 218.1" stroke-width="0.6" stroke-opacity="0.95"/><path d="M79.3 175C79.4 179.2 79.7 193.8 80 200C80.3 206.2 80.6 209.2 80.9 212C81.2 214.8 81.5 215.5 82 216.5C82.5 217.5 83.5 217.6 83.8 217.8" stroke-width="0.8" stroke-opacity="0.95"/></g><path d="M40.3 26.2V219.2H274V26.2" fill="none" stroke="#262626" stroke-opacity="0.7" stroke-width="0.6"/><path d="M40.3 26.2h2.3M274 26.2h-2.3M40.3 45.5h2.3M274 45.5h-2.3M40.3 64.8h2.3M274 64.8h-2.3M40.3 84.1h2.3M274 84.1h-2.3M40.3 103.4h2.3M274 103.4h-2.3M40.3 122.7h2.3M274 122.7h-2.3M40.3 142h2.3M274 142h-2.3M40.3 161.3h2.3M274 161.3h-2.3M40.3 180.6h2.3M274 180.6h-2.3M40.3 199.9h2.3M274 199.9h-2.3M40.3 219.2h2.3M274 219.2h-2.3M79.2 219.2v-2.3M118.2 219.2v-2.3M157.2 219.2v-2.3M196.1 219.2v-2.3M235.1 219.2v-2.3M274 219.2v-2.3" fill="none" stroke="#262626" stroke-opacity="0.75" stroke-width="0.6"/><path d="M40.3 26.1H274" stroke="#000" stroke-width="1.9" fill="none"/><path d="M40.3 122.5H77.4V219.2" stroke="#000" stroke-width="1.8" fill="none" stroke-linejoin="miter"/><path d="M76.5 218.3H274" stroke="#000" stroke-width="1.7" fill="none"/><text class="t" x="36.7" y="49.4" text-anchor="end">0.8</text><text class="t" x="36.7" y="88" text-anchor="end">0.4</text><text class="t" x="36.7" y="126.6" text-anchor="end">0</text><text class="t" x="36.7" y="165.2" text-anchor="end">-0.4</text><text class="t" x="36.7" y="203.8" text-anchor="end">-0.8</text><text class="t" x="79.5" y="233.2" text-anchor="middle">0</text><text class="t" x="118.5" y="233.2" text-anchor="middle">0.1</text><text class="t" x="157.5" y="233.2" text-anchor="middle">0.2</text><text class="t" x="196.4" y="233.2" text-anchor="middle">0.3</text><text class="t" x="235.4" y="233.2" text-anchor="middle">0.4</text><text class="t" x="274.3" y="233.2" text-anchor="middle">0.5</text><text class="m" x="157.5" y="251.8" text-anchor="middle">x</text><text class="m" transform="translate(8.8 121.5) rotate(-90)" text-anchor="middle">y</text><text class="ti" x="71.8" y="16.3" textLength="172.1" lengthAdjust="spacingAndGlyphs">Kn <tspan class="sy" font-size="23">→</tspan> <tspan class="sy" font-size="22">∞</tspan>, asymptotic</text><text class="pl" x="269.8" y="20.8" text-anchor="middle">(a)</text><rect x="287" y="25.6" width="10.4" height="193.4" fill="url(#cbg)" stroke="#262626" stroke-opacity="0.5" stroke-width="0.5"/><text class="t c" x="300.4" y="223">0</text><text class="t c" x="300.4" y="184.4">0.1</text><text class="t c" x="300.4" y="145.8">0.2</text><text class="t c" x="300.4" y="107.2">0.3</text><text class="t c" x="300.4" y="68.6">0.4</text><text class="t c" x="300.4" y="30">0.5</text><path d="M297.4 180.6h-1.8M297.4 142h-1.8M297.4 103.4h-1.8M297.4 64.8h-1.8" fill="none" stroke="#262626" stroke-opacity="0.7" stroke-width="0.6"/></g>
<g><rect x="407.3" y="119.7" width="37.7" height="100.6" fill="#fff"/><g clip-path="url(#cpb)" fill="none" stroke="#000" stroke-opacity="0.75" stroke-width="0.45"><path d="M407.8 24.4 490.5 24.4 498.8 24.4 507.1 24.4 513.8 24.4 519.6 24.4 523.7 24.4 527.9 24.4 533.7 24.5 540.3 24.5 548.6 24.5 561.1 24.6 577.2 24.7 593.3 24.7 609.4 24.8 625.5 24.9 641.6 25M407.8 29.4 488.7 29.4 496.7 29.4 504.7 29.4 511.2 29.4 516.8 29.4 520.8 29.4 524.8 29.4 530.4 29.5 536.9 29.5 544.9 29.5 556.9 29.6 573.9 29.7 590.8 29.8 607.7 29.9 624.7 30 641.6 30.1M407.8 34.4 486.9 34.4 494.6 34.4 502.4 34.4 508.6 34.4 514 34.4 517.9 34.4 521.8 34.5 527.2 34.5 533.4 34.5 541.1 34.6 552.8 34.7 570.5 34.9 588.3 35.1 606.1 35.2 623.8 35.4 641.6 35.6M407.8 39.4 485 39.4 492.5 39.4 500 39.4 506 39.4 511.2 39.4 515 39.5 518.7 39.5 523.9 39.6 529.9 39.6 537.4 39.7 548.6 39.9 567.2 40.2 585.8 40.5 604.4 40.8 623 41.2 641.6 41.5M407.8 44.4 483.2 44.4 490.4 44.4 497.6 44.4 503.4 44.4 508.4 44.4 512 44.5 515.6 44.5 520.7 44.6 526.5 44.7 533.7 44.8 544.5 45 563.9 45.5 583.3 45.9 602.8 46.3 622.2 46.7 641.6 47.2M407.8 49.4 481.4 49.4 488.3 49.4 495.2 49.4 500.8 49.4 505.6 49.5 509.1 49.5 512.6 49.5 517.4 49.6 523 49.7 529.9 49.9 540.3 50.2 560.6 50.7 580.8 51.3 601.1 51.8 621.3 52.4 641.6 53M407.8 54.4 479.5 54.4 486.2 54.4 492.9 54.4 498.2 54.4 502.9 54.5 506.2 54.5 509.5 54.6 514.2 54.7 519.5 54.8 526.2 55 536.2 55.3 557.3 56 578.3 56.7 599.4 57.4 620.5 58.1 641.6 58.9M407.8 59.4 477.7 59.4 484.1 59.4 490.5 59.4 495.6 59.4 500.1 59.5 503.3 59.5 506.5 59.6 510.9 59.7 516 59.8 522.4 60.1 532 60.4 553.9 61.2 575.9 62.1 597.8 62.9 619.7 63.8 641.6 64.7M407.8 64.4 475.9 64.4 482 64.4 488.1 64.4 493 64.4 497.3 64.5 500.3 64.5 503.4 64.6 507.7 64.7 512.6 64.9 518.7 65.2 527.9 65.6 550.6 66.6 573.4 67.7 596.1 68.8 618.9 69.9 641.6 71.1M407.8 69.4 474 69.4 479.9 69.4 485.7 69.4 490.4 69.4 494.5 69.5 497.4 69.6 500.3 69.6 504.4 69.8 509.1 70 515 70.3 523.7 70.7 547.3 72 570.9 73.3 594.5 74.6 618 75.9 641.6 77.3M407.8 74.4 472.2 74.4 477.8 74.4 483.4 74.4 487.8 74.4 491.7 74.5 494.5 74.6 497.3 74.7 501.2 74.8 505.6 75 511.2 75.4 519.6 75.9 544 77.4 568.4 79 592.8 80.6 617.2 82.2 641.6 83.9M407.8 79.4 470.4 79.4 475.7 79.4 481 79.4 485.2 79.5 488.9 79.5 491.6 79.6 494.2 79.7 497.9 79.9 502.2 80.1 507.5 80.4 515.4 81 540.7 82.7 565.9 84.6 591.1 86.5 616.4 88.3 641.6 90.3M407.8 84.4 468.5 84.4 473.6 84.4 478.6 84.4 482.6 84.5 486.1 84.5 488.7 84.6 491.2 84.7 494.7 84.9 498.7 85.1 503.7 85.5 511.3 86.1 537.3 88.2 563.4 90.4 589.5 92.6 615.5 94.8 641.6 97.1M407.8 89.4 466.7 89.4 471.5 89.4 476.2 89.4 480 89.5 483.4 89.5 485.7 89.6 488.1 89.7 491.4 89.9 495.2 90.2 500 90.5 507.1 91.1 534 93.4 560.9 95.8 587.8 98.3 614.7 100.8 641.6 103.3M407.8 94.4 464.9 94.4 469.4 94.4 473.8 94.4 477.4 94.5 480.6 94.5 482.8 94.6 485.1 94.7 488.2 94.9 491.8 95.2 496.3 95.6 503 96.3 530.7 99 558.4 101.9 586.2 104.9 613.9 107.8 641.6 110.9M407.8 99.4 463.1 99.4 467.3 99.4 471.5 99.4 474.8 99.5 477.8 99.6 479.9 99.7 482 99.8 484.9 100 488.3 100.3 492.5 100.8 498.8 101.5 527.4 105 555.9 108.5 584.5 112.2 613 115.9 641.6 119.6M407.8 104.4 461.2 104.4 465.2 104.4 469.1 104.4 472.2 104.5 475 104.6 477 104.7 478.9 104.9 481.7 105.1 484.8 105.5 488.8 106.1 494.7 106.9 524.1 111.5 553.4 116.3 582.8 121.1 612.2 126.1 641.6 131M407.8 109.4 459.4 109.4 463.1 109.4 466.7 109.4 469.6 109.5 472.2 109.7 474 109.8 475.9 110 478.4 110.4 481.4 110.9 485 111.6 490.5 112.7 520.7 119.3 551 126.1 581.2 133.1 611.4 140.2 641.6 147.3M407.8 114.4 457.6 114.4 461 114.4 464.3 114.5 467.1 114.6 469.4 114.8 471.1 115 472.8 115.3 475.2 115.8 477.9 116.5 481.3 117.5 486.4 119 517.4 129.4 548.5 140.1 579.5 151 610.6 162.1 641.6 173.3M447.6 119.4C448.2 121.7 449.8 127.2 451.1 133C452.4 138.8 453.9 146.1 455.5 154C457.1 161.9 459.2 173.3 460.8 180.3C462.4 187.3 463.8 192.3 465.2 196.1C466.6 199.9 467.3 200.8 469.5 203.1C471.7 205.4 474.8 208.2 478.3 210.1C481.8 212 485.6 213.4 490.6 214.5C495.6 215.6 501.7 216.1 508.1 216.6C514.5 217.1 520.5 217.3 529.1 217.6C537.8 217.8 554.9 218 560 218.1M446.6 121C446.8 125.8 447.2 139.3 447.6 150C448 160.7 448.4 175.8 448.8 185C449.2 194.2 449.7 200.3 450.3 205C450.9 209.7 451.6 211.1 452.5 213C453.4 214.9 454.4 215.7 456 216.5C457.6 217.3 461 217.6 462 217.8M446.5 122C446.6 127.5 446.9 143.7 447.2 155C447.5 166.3 447.8 181.3 448.1 190C448.5 198.7 448.8 203 449.3 207C449.8 211 450.2 212.3 451 214C451.8 215.7 452.8 216.3 454 217C455.2 217.7 457.3 217.8 458 218M446.4 123C446.5 129.2 446.7 148 446.9 160C447.1 172 447.3 186.8 447.6 195C447.9 203.2 448.2 205.7 448.6 209C449 212.3 449.4 213.6 450 215C450.6 216.4 452.1 217.1 452.5 217.5"/><path d="M453.6 212.5C454.1 212.5 454.8 212.7 455.2 212.9C455.5 213.2 455.8 213.7 455.8 214.1C455.8 214.5 455.5 214.9 455.2 215.2C454.8 215.5 454.1 215.7 453.6 215.7C453.1 215.7 452.4 215.5 452 215.2C451.7 214.9 451.4 214.5 451.4 214.1C451.4 213.7 451.7 213.2 452 212.9C452.4 212.7 453.1 212.5 453.6 212.5Z" stroke-width="0.35" stroke-opacity="1"/><path d="M453.6 210.8C454.5 210.8 455.8 211.2 456.4 211.7C457.1 212.2 457.6 213.1 457.6 213.8C457.6 214.5 457.1 215.4 456.4 215.9C455.8 216.4 454.5 216.8 453.6 216.8C452.7 216.8 451.4 216.4 450.8 215.9C450.1 215.4 449.6 214.5 449.6 213.8C449.6 213.1 450.1 212.2 450.8 211.7C451.4 211.2 452.7 210.8 453.6 210.8Z" stroke-width="0.35" stroke-opacity="1"/></g><path d="M407.8 19.4V219.3H641.6V19.4" fill="none" stroke="#262626" stroke-opacity="0.7" stroke-width="0.6"/><path d="M407.8 19.4h2.3M641.6 19.4h-2.3M407.8 39.4h2.3M641.6 39.4h-2.3M407.8 59.4h2.3M641.6 59.4h-2.3M407.8 79.4h2.3M641.6 79.4h-2.3M407.8 99.4h2.3M641.6 99.4h-2.3M407.8 119.3h2.3M641.6 119.3h-2.3M407.8 139.3h2.3M641.6 139.3h-2.3M407.8 159.3h2.3M641.6 159.3h-2.3M407.8 179.3h2.3M641.6 179.3h-2.3M407.8 199.3h2.3M641.6 199.3h-2.3M407.8 219.3h2.3M641.6 219.3h-2.3M446.8 219.3v-2.3M485.7 219.3v-2.3M524.7 219.3v-2.3M563.7 219.3v-2.3M602.6 219.3v-2.3M641.6 219.3v-2.3" fill="none" stroke="#262626" stroke-opacity="0.75" stroke-width="0.6"/><path d="M407.8 19.3H641.6" stroke="#000" stroke-width="1.9" fill="none"/><path d="M407.8 119.7H445V219.3" stroke="#000" stroke-width="1.8" fill="none" stroke-linejoin="miter"/><path d="M444.1 218.4H641.6" stroke="#000" stroke-width="1.7" fill="none"/><text class="t" x="404.2" y="43.3" text-anchor="end">0.8</text><text class="t" x="404.2" y="83.3" text-anchor="end">0.4</text><text class="t" x="404.2" y="123.2" text-anchor="end">0</text><text class="t" x="404.2" y="163.2" text-anchor="end">-0.4</text><text class="t" x="404.2" y="203.2" text-anchor="end">-0.8</text><text class="t" x="447.1" y="233.3" text-anchor="middle">0</text><text class="t" x="486" y="233.3" text-anchor="middle">0.1</text><text class="t" x="525" y="233.3" text-anchor="middle">0.2</text><text class="t" x="564" y="233.3" text-anchor="middle">0.3</text><text class="t" x="602.9" y="233.3" text-anchor="middle">0.4</text><text class="t" x="641.9" y="233.3" text-anchor="middle">0.5</text><text class="m" x="525" y="251.9" text-anchor="middle">x</text><text class="m" transform="translate(376.8 118.1) rotate(-90)" text-anchor="middle">y</text><text class="ti" x="462.2" y="12.5" textLength="125.2" lengthAdjust="spacingAndGlyphs">Kn <tspan class="sy" font-size="23">→</tspan> <tspan class="sy" font-size="22">∞</tspan>, DVM</text><text class="pl" x="637.7" y="13.5" text-anchor="middle">(b)</text><rect x="654.6" y="18.8" width="10" height="200.3" fill="url(#cbg)" stroke="#262626" stroke-opacity="0.5" stroke-width="0.5"/><text class="t c" x="667.8" y="223.1">0</text><text class="t c" x="667.8" y="183.1">0.1</text><text class="t c" x="667.8" y="143.1">0.2</text><text class="t c" x="667.8" y="103.2">0.3</text><text class="t c" x="667.8" y="63.2">0.4</text><text class="t c" x="667.8" y="23.2">0.5</text><path d="M664.6 179.3h-1.8M664.6 139.3h-1.8M664.6 99.4h-1.8M664.6 59.4h-1.8" fill="none" stroke="#262626" stroke-opacity="0.7" stroke-width="0.6"/></g>
<g><rect x="39.8" y="406.3" width="37.6" height="100.9" fill="#fff"/><g clip-path="url(#cpc)" fill="none" stroke="#000" stroke-opacity="0.75" stroke-width="0.45"><path d="M40.3 311.8 123.1 311.8 131.4 311.8 139.8 311.8 146.4 311.8 152.2 311.8 156.4 311.8 160.5 311.8 166.3 311.8 173 311.9 181.3 311.9 193.8 312 209.9 312 226 312.1 242.1 312.2 258.3 312.3 274.4 312.4M40.3 316.8 121.3 316.8 129.3 316.8 137.4 316.8 143.8 316.8 149.4 316.8 153.4 316.8 157.5 316.8 163.1 316.8 169.5 316.9 177.6 316.9 189.6 317 206.6 317.1 223.5 317.2 240.5 317.3 257.4 317.4 274.4 317.5M40.3 321.8 119.5 321.8 127.2 321.8 135 321.8 141.2 321.8 146.6 321.8 150.5 321.8 154.4 321.8 159.8 321.9 166.1 321.9 173.8 322 185.5 322.1 203.2 322.2 221 322.4 238.8 322.6 256.6 322.8 274.4 323M40.3 326.7 117.6 326.7 125.1 326.7 132.6 326.8 138.6 326.8 143.9 326.8 147.6 326.8 151.3 326.8 156.6 326.9 162.6 327 170.1 327.1 181.3 327.3 199.9 327.6 218.5 327.9 237.2 328.2 255.8 328.5 274.4 328.8M40.3 331.7 115.8 331.7 123 331.7 130.2 331.7 136 331.8 141.1 331.8 144.7 331.8 148.3 331.9 153.3 331.9 159.1 332 166.3 332.2 177.2 332.4 196.6 332.8 216.1 333.2 235.5 333.6 255 334.1 274.4 334.5M40.3 336.7 114 336.7 120.9 336.7 127.9 336.7 133.4 336.7 138.3 336.8 141.7 336.8 145.2 336.9 150.1 337 155.6 337.1 162.6 337.2 173 337.5 193.3 338 213.6 338.6 233.8 339.2 254.1 339.7 274.4 340.3M40.3 341.7 112.1 341.7 118.8 341.7 125.5 341.7 130.8 341.7 135.5 341.8 138.8 341.8 142.2 341.9 146.8 342 152.2 342.1 158.8 342.3 168.8 342.6 190 343.3 211.1 344 232.2 344.7 253.3 345.5 274.4 346.2M40.3 346.7 110.3 346.7 116.7 346.7 123.1 346.7 128.2 346.7 132.7 346.8 135.9 346.8 139.1 346.9 143.6 347 148.7 347.1 155.1 347.4 164.7 347.7 186.6 348.5 208.6 349.4 230.5 350.2 252.5 351.1 274.4 352M40.3 351.7 108.5 351.7 114.6 351.7 120.7 351.7 125.6 351.7 129.9 351.8 133 351.8 136 351.9 140.3 352 145.2 352.2 151.3 352.5 160.5 352.9 183.3 353.9 206.1 355 228.9 356.1 251.6 357.2 274.4 358.3M40.3 356.7 106.6 356.7 112.5 356.7 118.3 356.7 123 356.7 127.1 356.8 130 356.8 133 356.9 137.1 357.1 141.7 357.3 147.6 357.5 156.4 358 180 359.2 203.6 360.5 227.2 361.8 250.8 363.2 274.4 364.5M40.3 361.6 104.8 361.6 110.4 361.6 116 361.7 120.4 361.7 124.3 361.8 127.1 361.8 129.9 361.9 133.8 362.1 138.3 362.3 143.9 362.6 152.2 363.1 176.7 364.7 201.1 366.2 225.5 367.8 250 369.5 274.4 371.1M40.3 366.6 103 366.6 108.3 366.6 113.6 366.7 117.8 366.7 121.5 366.8 124.2 366.8 126.8 366.9 130.6 367.1 134.8 367.3 140.1 367.7 148.1 368.2 173.3 370 198.6 371.8 223.9 373.7 249.1 375.6 274.4 377.5M40.3 371.6 101.1 371.6 106.2 371.6 111.2 371.6 115.2 371.7 118.7 371.8 121.3 371.8 123.8 371.9 127.3 372.1 131.3 372.4 136.4 372.7 143.9 373.3 170 375.4 196.1 377.6 222.2 379.8 248.3 382 274.4 384.3M40.3 376.6 99.3 376.6 104.1 376.6 108.8 376.6 112.6 376.7 116 376.8 118.3 376.8 120.7 376.9 124 377.1 127.9 377.4 132.6 377.7 139.8 378.3 166.7 380.6 193.6 383 220.5 385.5 247.5 387.9 274.4 390.4M40.3 381.6 97.5 381.6 101.9 381.6 106.4 381.6 110 381.7 113.2 381.8 115.4 381.8 117.7 382 120.8 382.2 124.4 382.4 128.9 382.8 135.6 383.5 163.4 386.2 191.1 389.1 218.9 392.1 246.6 395 274.4 398M40.3 386.6 95.6 386.6 99.8 386.6 104.1 386.6 107.4 386.7 110.4 386.8 112.5 386.9 114.6 387 117.5 387.2 120.9 387.5 125.1 388 131.4 388.7 160 392.2 188.6 395.7 217.2 399.4 245.8 403.1 274.4 406.8M40.3 391.5 93.8 391.6 97.7 391.6 101.7 391.6 104.8 391.7 107.6 391.8 109.6 391.9 111.5 392.1 114.3 392.3 117.4 392.7 121.4 393.2 127.3 394.1 156.7 398.7 186.1 403.4 215.6 408.3 245 413.2 274.4 418.2M40.3 396.5 92 396.5 95.6 396.6 99.3 396.6 102.2 396.7 104.8 396.8 106.6 397 108.5 397.2 111 397.6 114 398 117.6 398.7 123.1 399.9 153.4 406.4 183.6 413.3 213.9 420.2 244.1 427.3 274.4 434.4M40.3 401.5 90.1 401.5 93.5 401.6 96.9 401.6 99.6 401.8 102 402 103.7 402.2 105.4 402.5 107.8 402.9 110.5 403.6 113.9 404.6 119 406.2 150.1 416.5 181.1 427.2 212.2 438.1 243.3 449.1 274.4 460.3M80.5 405.9C83.1 406.3 90.8 406 96.3 408.5C101.8 411 108 415.2 113.8 420.8C119.6 426.4 125.5 435.1 131.3 441.8C137.1 448.5 143 455.6 148.8 461.1C154.7 466.7 159.5 470.9 166.4 475.1C173.3 479.3 181.1 483.6 190 486.5C198.9 489.4 210 491.2 220 492.8C230 494.4 241 495.2 250 496C259 496.8 270 497.2 274 497.4M79.5 406.5C81.7 407.1 88.5 407.3 92.8 410.3C97 413.3 100.9 418.2 105 424.3C109.1 430.4 113.2 439.7 117.3 447C121.4 454.3 125.2 462.2 129.6 468.1C134 474 138.9 478.3 143.6 482.1C148.3 485.9 152.3 488.6 157.6 490.9C162.8 493.2 169.7 494.8 175.1 496.1C180.5 497.4 180.8 498 190 498.7C199.2 499.4 216 499.9 230 500.3C244 500.7 266.7 500.8 274 500.9M79.4 406.8C81.1 407.7 86.2 408.2 89.3 412C92.4 415.8 95.1 422.5 98 429.5C100.9 436.5 103.9 446.5 106.8 454.1C109.7 461.7 112.3 469.3 115.5 475.1C118.7 480.9 122 485.5 126.1 489.1C130.2 492.8 134.8 495.1 140.1 497C145.3 498.9 149.3 499.6 157.6 500.5C165.9 501.4 170.6 502.2 190 502.6C209.4 503.1 260 503.1 274 503.2M79.3 407C80.5 408.4 84.3 410.6 86.6 415.5C88.8 420.4 90.9 429.2 92.8 436.5C94.7 443.8 96.2 452.3 98 459.3C99.8 466.3 101.2 473.1 103.3 478.6C105.3 484.2 107.4 489.1 110.3 492.6C113.2 496.1 115.8 497.9 120.8 499.6C125.8 501.3 126.9 501.8 140.1 502.6C153.3 503.4 190 503.9 200 504.2M79.2 407.3C80.2 409.2 83.2 413.2 84.9 419C86.6 424.8 87.8 433.6 89.3 441.8C90.8 450 92.2 460.5 93.7 468.1C95.2 475.7 96.2 482.4 98 487.4C99.8 492.4 101.6 495.4 104.2 497.9C106.8 500.4 107.8 501.2 113.8 502.2C119.8 503.2 135.6 503.7 140 504M79.1 407.6C79.8 409.8 81.8 414.2 83.1 420.8C84.3 427.4 85.4 438.2 86.6 447C87.8 455.8 88.9 465.7 90.1 473.3C91.3 480.9 92.4 488.1 93.7 492.6C95 497.1 96.1 498.7 98 500.5C99.9 502.3 101.3 502.7 105 503.3C108.7 503.9 117.5 504.2 120 504.4"/><path d="M83.6 428.6C83.9 428.6 84.1 429.7 84.4 431.7C84.6 433.6 84.9 436.8 85.1 440.3C85.3 443.9 85.5 448.5 85.6 452.9C85.8 457.3 85.9 462.3 85.9 466.7C85.9 471.1 85.8 475.7 85.7 479.3C85.6 482.8 85.4 486 85.2 487.9C85 489.9 84.7 491 84.4 491C84.1 491 83.8 489.9 83.5 487.9C83.2 486 82.9 482.8 82.7 479.3C82.5 475.7 82.4 471.1 82.3 466.7C82.2 462.3 82.2 457.3 82.2 452.9C82.2 448.5 82.3 443.9 82.4 440.3C82.6 436.8 82.8 433.6 83 431.7C83.1 429.7 83.4 428.6 83.6 428.6Z" stroke-width="2.8" stroke-opacity="1"/><path d="M83.7 425.8C84.2 425.8 84.7 427 85.2 429.2C85.6 431.3 86.1 434.8 86.5 438.6C86.9 442.4 87.3 447.4 87.5 452.2C87.7 457 87.9 462.6 87.9 467.4C87.9 472.2 87.7 477.2 87.5 481C87.2 484.8 86.7 488.3 86.2 490.4C85.8 492.6 85.1 493.8 84.5 493.8C83.9 493.8 83.2 492.6 82.7 490.4C82.1 488.3 81.6 484.8 81.2 481C80.9 477.2 80.6 472.2 80.5 467.4C80.4 462.6 80.4 457 80.5 452.2C80.6 447.4 80.9 442.4 81.2 438.6C81.5 434.8 81.9 431.3 82.3 429.2C82.7 427 83.2 425.8 83.7 425.8Z" stroke-width="0.6" stroke-opacity="1"/><path d="M84 423C84.6 423 85.2 424.4 85.7 426.8C86.3 429.1 86.9 433 87.3 437.3C87.8 441.6 88.3 447.2 88.5 452.5C88.8 457.9 89 464.1 89 469.5C89 474.8 88.9 480.4 88.5 484.7C88.2 489 87.7 492.9 87.1 495.2C86.5 497.6 85.7 499 85 499C84.2 499 83.4 497.6 82.7 495.2C82.1 492.9 81.5 489 81 484.7C80.6 480.4 80.3 474.8 80.2 469.5C80 464.1 80.1 457.9 80.3 452.5C80.4 447.2 80.7 441.6 81.1 437.3C81.5 433 81.9 429.1 82.4 426.8C82.9 424.4 83.5 423 84 423Z" stroke-width="0.45" stroke-opacity="1"/><path d="M84 420.6C84.6 420.6 85.3 422.1 85.9 424.7C86.5 427.3 87.2 431.5 87.7 436.2C88.3 440.9 88.8 447 89.1 452.8C89.4 458.7 89.7 465.4 89.6 471.3C89.6 477.1 89.5 483.2 89.1 487.9C88.7 492.6 88.1 496.8 87.4 499.4C86.7 502 85.8 503.6 85 503.6C84.2 503.6 83.2 502 82.5 499.4C81.7 496.8 81 492.6 80.5 487.9C80.1 483.2 79.7 477.1 79.6 471.3C79.4 465.4 79.5 458.7 79.7 452.8C79.9 447 80.2 440.9 80.6 436.2C81.1 431.5 81.6 427.3 82.2 424.7C82.7 422.1 83.4 420.6 84 420.6Z" stroke-width="0.45" stroke-opacity="1"/><path d="M84 418.4C84.7 418.4 85.4 420.1 86.1 422.9C86.8 425.6 87.5 430.2 88.1 435.2C88.7 440.2 89.3 446.8 89.7 453C90 459.3 90.3 466.6 90.3 472.9C90.3 479.1 90 485.7 89.6 490.7C89.2 495.7 88.5 500.3 87.7 503C87 505.8 86 507.4 85 507.4C84.1 507.4 83.1 505.8 82.2 503C81.4 500.3 80.6 495.7 80 490.7C79.5 485.7 79.1 479.1 79 472.9C78.8 466.6 78.9 459.3 79.1 453C79.3 446.8 79.7 440.2 80.2 435.2C80.7 430.2 81.3 425.6 81.9 422.9C82.5 420.1 83.3 418.4 84 418.4Z" stroke-width="0.45" stroke-opacity="1"/></g><path d="M40.3 306.8V506.2H274.4V306.8" fill="none" stroke="#262626" stroke-opacity="0.7" stroke-width="0.6"/><path d="M40.3 306.8h2.3M274.4 306.8h-2.3M40.3 326.7h2.3M274.4 326.7h-2.3M40.3 346.7h2.3M274.4 346.7h-2.3M40.3 366.6h2.3M274.4 366.6h-2.3M40.3 386.6h2.3M274.4 386.6h-2.3M40.3 406.5h2.3M274.4 406.5h-2.3M40.3 426.4h2.3M274.4 426.4h-2.3M40.3 446.4h2.3M274.4 446.4h-2.3M40.3 466.3h2.3M274.4 466.3h-2.3M40.3 486.3h2.3M274.4 486.3h-2.3M40.3 506.2h2.3M274.4 506.2h-2.3M79.3 506.2v-2.3M118.3 506.2v-2.3M157.3 506.2v-2.3M196.4 506.2v-2.3M235.4 506.2v-2.3M274.4 506.2v-2.3" fill="none" stroke="#262626" stroke-opacity="0.75" stroke-width="0.6"/><path d="M40.3 306.7H274.4" stroke="#000" stroke-width="1.9" fill="none"/><path d="M40.3 406.3H77.4V506.2" stroke="#000" stroke-width="1.8" fill="none" stroke-linejoin="miter"/><path d="M76.5 505.3H274.4" stroke="#000" stroke-width="1.7" fill="none"/><text class="t" x="36.7" y="330.6" text-anchor="end">0.8</text><text class="t" x="36.7" y="370.5" text-anchor="end">0.4</text><text class="t" x="36.7" y="410.4" text-anchor="end">0</text><text class="t" x="36.7" y="450.3" text-anchor="end">-0.4</text><text class="t" x="36.7" y="490.2" text-anchor="end">-0.8</text><text class="t" x="79.6" y="520.2" text-anchor="middle">0</text><text class="t" x="118.6" y="520.2" text-anchor="middle">0.1</text><text class="t" x="157.7" y="520.2" text-anchor="middle">0.2</text><text class="t" x="196.7" y="520.2" text-anchor="middle">0.3</text><text class="t" x="235.7" y="520.2" text-anchor="middle">0.4</text><text class="t" x="274.7" y="520.2" text-anchor="middle">0.5</text><text class="m" x="157.7" y="538.8" text-anchor="middle">x</text><text class="m" transform="translate(8.8 405.3) rotate(-90)" text-anchor="middle">y</text><text class="ti" x="74.1" y="299.8" textLength="167.3" lengthAdjust="spacingAndGlyphs">Kn = 20, asymptotic</text><text class="pl" x="270.4" y="301.3" text-anchor="middle">(c)</text><rect x="287" y="306.2" width="10.8" height="199.8" fill="url(#cbg)" stroke="#262626" stroke-opacity="0.5" stroke-width="0.5"/><text class="t c" x="300.5" y="510">0</text><text class="t c" x="300.5" y="470.1">0.1</text><text class="t c" x="300.5" y="430.2">0.2</text><text class="t c" x="300.5" y="390.4">0.3</text><text class="t c" x="300.5" y="350.5">0.4</text><text class="t c" x="300.5" y="310.6">0.5</text><path d="M297.8 466.3h-1.8M297.8 426.4h-1.8M297.8 386.6h-1.8M297.8 346.7h-1.8" fill="none" stroke="#262626" stroke-opacity="0.7" stroke-width="0.6"/></g>
<g><rect x="408.2" y="407.5" width="37.6" height="97.5" fill="#fff"/><g clip-path="url(#cpd)" fill="none" stroke="#000" stroke-opacity="0.75" stroke-width="0.45"><path d="M408.7 316.3 491.6 316.3 499.9 316.3 508.2 316.3 514.9 316.3 520.7 316.3 524.9 316.3 529 316.3 534.9 316.4 541.5 316.4 549.8 316.4 562.3 316.5 578.4 316.6 594.6 316.6 610.7 316.7 626.9 316.8 643 316.9M408.7 321.1 489.8 321.1 497.8 321.1 505.9 321.1 512.3 321.1 517.9 321.1 521.9 321.2 526 321.2 531.6 321.2 538 321.2 546.1 321.3 558.1 321.3 575.1 321.4 592.1 321.5 609.1 321.6 626 321.7 643 321.8M408.7 325.9 487.9 325.9 495.7 325.9 503.5 325.9 509.7 326 515.1 326 519 326 522.9 326 528.3 326 534.6 326.1 542.3 326.1 554 326.2 571.8 326.4 589.6 326.6 607.4 326.7 625.2 326.9 643 327.1M408.7 330.8 486.1 330.8 493.6 330.8 501.1 330.8 507.1 330.8 512.3 330.8 516.1 330.8 519.8 330.9 525.1 330.9 531.1 331 538.6 331.1 549.8 331.3 568.5 331.5 587.1 331.8 605.7 332.2 624.4 332.5 643 332.8M408.7 335.6 484.3 335.6 491.5 335.6 498.7 335.6 504.5 335.6 509.5 335.6 513.2 335.7 516.8 335.7 521.8 335.8 527.6 335.8 534.8 336 545.7 336.2 565.1 336.6 584.6 337 604.1 337.4 623.5 337.8 643 338.3M408.7 340.4 482.4 340.4 489.4 340.4 496.3 340.4 501.9 340.4 506.8 340.4 510.2 340.5 513.7 340.5 518.6 340.6 524.1 340.7 531.1 340.9 541.5 341.1 561.8 341.7 582.1 342.2 602.4 342.7 622.7 343.3 643 343.8M408.7 345.2 480.6 345.2 487.3 345.2 493.9 345.2 499.3 345.2 504 345.3 507.3 345.3 510.6 345.4 515.3 345.5 520.7 345.6 527.3 345.8 537.4 346.1 558.5 346.7 579.6 347.4 600.7 348.1 621.9 348.8 643 349.5M408.7 350 478.8 350 485.2 350 491.6 350 496.7 350 501.2 350.1 504.4 350.1 507.6 350.2 512.1 350.3 517.2 350.4 523.6 350.7 533.2 351 555.2 351.8 577.1 352.6 599.1 353.4 621 354.3 643 355.1M408.7 354.8 476.9 354.8 483.1 354.8 489.2 354.8 494.1 354.9 498.4 354.9 501.4 355 504.5 355 508.8 355.2 513.7 355.3 519.8 355.6 529 356 551.8 357 574.6 358 597.4 359.1 620.2 360.2 643 361.3M408.7 359.6 475.1 359.6 480.9 359.6 486.8 359.7 491.5 359.7 495.6 359.7 498.5 359.8 501.4 359.9 505.5 360 510.2 360.2 516.1 360.5 524.9 360.9 548.5 362.1 572.1 363.4 595.7 364.6 619.4 365.9 643 367.2M408.7 364.4 473.2 364.4 478.8 364.4 484.4 364.5 488.9 364.5 492.8 364.6 495.6 364.6 498.4 364.7 502.3 364.9 506.8 365.1 512.3 365.4 520.7 365.9 545.2 367.4 569.6 368.9 594.1 370.4 618.5 372 643 373.6M408.7 369.3 471.4 369.3 476.7 369.3 482 369.3 486.3 369.3 490 369.4 492.7 369.5 495.3 369.6 499 369.7 503.3 369.9 508.6 370.3 516.6 370.8 541.8 372.5 567.1 374.3 592.4 376.1 617.7 377.9 643 379.7M408.7 374.1 469.6 374.1 474.6 374.1 479.7 374.1 483.7 374.1 487.2 374.2 489.7 374.3 492.2 374.4 495.8 374.6 499.8 374.8 504.8 375.2 512.4 375.7 538.5 377.7 564.6 379.8 590.8 382 616.9 384.1 643 386.3M408.7 378.9 467.7 378.9 472.5 378.9 477.3 378.9 481.1 379 484.4 379 486.8 379.1 489.2 379.2 492.5 379.4 496.3 379.6 501.1 380 508.2 380.5 535.2 382.8 562.1 385.1 589.1 387.5 616 389.8 643 392.3M408.7 383.7 465.9 383.7 470.4 383.7 474.9 383.7 478.5 383.8 481.6 383.9 483.9 383.9 486.1 384.1 489.3 384.2 492.9 384.5 497.3 384.9 504.1 385.5 531.9 388.2 559.6 391 587.4 393.8 615.2 396.7 643 399.6M408.7 388.5 464.1 388.5 468.3 388.5 472.5 388.5 475.9 388.6 478.8 388.7 480.9 388.8 483.1 388.9 486 389.1 489.4 389.4 493.6 389.9 499.9 390.6 528.5 393.9 557.2 397.3 585.8 400.9 614.4 404.4 643 408M408.7 393.3 462.2 393.3 466.2 393.3 470.1 393.4 473.3 393.4 476 393.5 478 393.7 480 393.8 482.7 394.1 485.9 394.4 489.8 395 495.8 395.8 525.2 400.2 554.7 404.8 584.1 409.5 613.6 414.2 643 419M408.7 398.1 460.4 398.1 464.1 398.2 467.7 398.2 470.7 398.3 473.2 398.4 475.1 398.6 476.9 398.8 479.5 399.1 482.4 399.6 486.1 400.3 491.6 401.3 521.9 407.7 552.2 414.3 582.4 421 612.7 427.8 643 434.7M408.7 402.9 458.6 403 462 403 465.4 403 468.1 403.2 470.5 403.4 472.2 403.6 473.9 403.8 476.2 404.3 479 405 482.3 405.9 487.4 407.5 518.6 417.4 549.7 427.7 580.8 438.2 611.9 448.9 643 459.7M448.5 407.9C451.1 408.9 459.6 410.6 464.3 414C469 417.4 472.1 422.4 476.5 428C480.9 433.6 485.9 441.4 490.6 447.3C495.3 453.2 499.9 458.4 504.6 463.1C509.3 467.8 513.9 471.8 518.6 475.3C523.3 478.8 527.9 481.9 532.6 484.1C537.3 486.3 542.4 487.3 546.6 488.5C550.8 489.7 550.8 489.9 558 491.1C565.2 492.3 579.7 494.4 590 495.5C600.3 496.6 611.2 497.1 620 497.5C628.8 497.9 639.2 498.1 643 498.2M447.5 409.6C448.8 412.4 453 419.1 455.5 426.3C458 433.5 460.2 444.1 462.5 452.6C464.8 461.1 466.9 470.4 469.5 477.1C472.1 483.8 474.8 489.1 478.3 492.9C481.8 496.7 485.7 498.3 490.6 499.9C495.6 501.5 496.4 502 508 502.6C519.6 503.2 551.3 503.2 560 503.3M447.4 410C448.6 413 452.3 420.5 454.6 428C456.9 435.5 459 446.4 461.2 455C463.4 463.6 465.4 472.9 467.8 479.5C470.2 486.1 472.3 490.9 475.5 494.5C478.7 498.1 482.4 499.4 487 500.8C491.6 502.2 500.3 502.5 503 502.9M447.3 410.5C448.4 413.7 451.7 421.9 453.8 429.8C455.9 437.7 457.9 449.1 459.9 457.8C461.9 466.6 463.8 475.9 466 482.3C468.2 488.7 470.1 493.1 473 496.4C475.9 499.7 479.7 500.9 483.5 502C487.3 503.1 493.9 503 496 503.2M447.2 411C448.1 414.5 450.9 423.7 452.8 432C454.7 440.3 456.5 452.2 458.4 461C460.3 469.8 462.1 478.9 464 485C465.9 491.1 467.7 494.6 470 497.5C472.3 500.4 475 501.3 478 502.3C481 503.3 486.3 503.1 488 503.3"/><path d="M448.9 416.6C449.4 415.8 450.9 417.4 452 421C453.1 424.7 454.4 432.4 455.5 438.5C456.6 444.7 457.8 451.7 458.7 457.8C459.5 463.9 460.4 470.4 460.8 475.3C461.2 480.3 461.4 484.1 461.1 487.6C460.8 491.1 460 494.3 459 496.4C458.1 498.5 456.7 499.9 455.5 500.2C454.4 500.5 452.9 500.2 452 498.1C451.1 496 450.4 492.9 449.9 487.6C449.4 482.3 449.1 473.9 448.9 466.6C448.6 459.3 448.6 450.5 448.5 443.8C448.5 437.1 448.5 430.8 448.5 426.3C448.6 421.8 448.3 417.5 448.9 416.6Z" stroke-width="0.55" stroke-opacity="1"/><path d="M448.9 416.7C449.4 415.9 450.8 417.4 451.8 420.9C452.8 424.5 453.9 431.9 455 437.8C456 443.7 457 450.5 457.8 456.4C458.6 462.3 459.4 468.4 459.7 473.2C460.1 478 460.3 481.7 460.1 485C459.8 488.4 459 491.4 458.1 493.5C457.3 495.5 456 496.9 455 497.2C453.9 497.4 452.6 497.2 451.8 495.1C450.9 493.1 450.3 490.1 449.9 485C449.4 480 449.1 471.8 448.9 464.8C448.7 457.8 448.6 449.3 448.6 442.9C448.5 436.4 448.5 430.4 448.6 426C448.6 421.6 448.4 417.6 448.9 416.7Z" stroke-width="0.55" stroke-opacity="1"/><path d="M448.9 416.8C449.4 416 450.6 417.5 451.5 420.9C452.4 424.2 453.5 431.4 454.4 437.1C455.3 442.7 456.3 449.2 457 454.9C457.7 460.6 458.4 466.5 458.7 471.1C459 475.7 459.2 479.2 459 482.5C458.7 485.7 458 488.6 457.3 490.6C456.5 492.5 455.3 493.8 454.4 494.1C453.4 494.4 452.3 494.1 451.5 492.2C450.7 490.2 450.2 487.3 449.8 482.5C449.4 477.6 449.1 469.8 448.9 463C448.7 456.3 448.7 448.1 448.6 441.9C448.6 435.7 448.6 429.9 448.6 425.7C448.7 421.5 448.5 417.6 448.9 416.8Z" stroke-width="0.55" stroke-opacity="1"/><path d="M449 416.9C449.4 416.1 450.5 417.6 451.3 420.8C452.1 424 453 430.9 453.8 436.3C454.6 441.8 455.5 448 456.1 453.4C456.8 458.9 457.4 464.6 457.7 469C458 473.4 458.1 476.8 457.9 479.9C457.7 483 457.1 485.8 456.4 487.7C455.7 489.5 454.7 490.8 453.8 491.1C453 491.3 451.9 491.1 451.3 489.2C450.6 487.3 450.1 484.5 449.7 479.9C449.3 475.2 449.1 467.7 449 461.2C448.8 454.7 448.8 447 448.7 441C448.7 435 448.7 429.5 448.7 425.5C448.8 421.4 448.5 417.7 449 416.9Z" stroke-width="1.0" stroke-opacity="1"/><path d="M449 417C449.4 416.2 450.3 417.6 451 420.7C451.7 423.8 452.5 430.4 453.3 435.6C454 440.8 454.7 446.8 455.3 452C455.8 457.2 456.4 462.7 456.6 466.9C456.9 471.1 457 474.3 456.8 477.3C456.7 480.3 456.1 483 455.5 484.7C454.9 486.5 454 487.8 453.3 488C452.5 488.3 451.6 488 451 486.2C450.4 484.5 450 481.8 449.7 477.3C449.3 472.8 449.1 465.6 449 459.4C448.8 453.2 448.8 445.8 448.8 440.1C448.7 434.4 448.7 429 448.8 425.2C448.8 421.3 448.6 417.7 449 417Z" stroke-width="1.0" stroke-opacity="1"/><path d="M449 417.1C449.4 416.4 450.2 417.7 450.8 420.6C451.4 423.6 452.1 429.9 452.7 434.9C453.3 439.9 453.9 445.6 454.4 450.5C454.9 455.5 455.4 460.7 455.6 464.8C455.8 468.8 455.9 471.9 455.8 474.7C455.6 477.6 455.1 480.1 454.6 481.8C454.1 483.6 453.3 484.7 452.7 485C452.1 485.2 451.3 485 450.8 483.3C450.3 481.6 449.9 479 449.6 474.7C449.3 470.5 449.2 463.6 449 457.6C448.9 451.7 448.9 444.6 448.8 439.1C448.8 433.7 448.8 428.6 448.8 424.9C448.9 421.2 448.7 417.8 449 417.1Z" stroke-width="1.0" stroke-opacity="1"/><path d="M449.1 417.2C449.3 416.5 450 417.7 450.5 420.6C451 423.4 451.6 429.4 452.1 434.1C452.6 438.9 453.2 444.3 453.6 449.1C454 453.8 454.4 458.8 454.5 462.7C454.7 466.5 454.8 469.4 454.7 472.2C454.6 474.9 454.2 477.3 453.7 478.9C453.3 480.6 452.7 481.7 452.1 481.9C451.6 482.2 450.9 481.9 450.5 480.3C450.1 478.7 449.8 476.2 449.6 472.2C449.3 468.1 449.2 461.5 449.1 455.9C449 450.2 448.9 443.4 448.9 438.2C448.9 433 448.9 428.1 448.9 424.6C448.9 421.1 448.8 417.8 449.1 417.2Z" stroke-width="1.0" stroke-opacity="1"/><path d="M449.1 417.3C449.3 416.6 449.9 417.8 450.3 420.5C450.7 423.2 451.2 428.9 451.6 433.4C452 437.9 452.4 443.1 452.7 447.6C453.1 452.1 453.4 456.9 453.5 460.5C453.7 464.2 453.7 467 453.6 469.6C453.5 472.2 453.2 474.5 452.9 476C452.5 477.6 452 478.7 451.6 478.9C451.1 479.1 450.6 478.9 450.3 477.3C449.9 475.8 449.7 473.5 449.5 469.6C449.3 465.7 449.2 459.5 449.1 454.1C449 448.7 449 442.2 449 437.3C448.9 432.3 448.9 427.7 449 424.4C449 421 448.9 417.9 449.1 417.3Z" stroke-width="1.0" stroke-opacity="1"/><path d="M449.1 417.3C449.3 416.7 449.7 417.9 450 420.4C450.3 423 450.7 428.4 451 432.7C451.3 437 451.6 441.9 451.9 446.2C452.1 450.5 452.4 455 452.5 458.4C452.6 461.9 452.7 464.6 452.6 467C452.5 469.5 452.2 471.7 452 473.1C451.7 474.6 451.3 475.6 451 475.8C450.7 476 450.3 475.8 450 474.4C449.8 472.9 449.6 470.7 449.4 467C449.3 463.3 449.2 457.4 449.1 452.3C449.1 447.2 449.1 441.1 449 436.4C449 431.7 449 427.3 449 424.1C449.1 420.9 449 418 449.1 417.3Z" stroke-width="1.0" stroke-opacity="1"/><path d="M449.2 418.4C449.4 417.8 450.3 426.4 451 431.5C451.7 436.6 452.7 443.8 453.4 449.1C454.1 454.3 455.1 460.1 455.2 463.1C455.2 466 454.4 468.3 453.8 466.6C453.1 464.8 452 457.8 451.3 452.6C450.6 447.3 449.9 440.7 449.6 435C449.2 429.3 449 419 449.2 418.4Z" stroke-width="1.6" stroke-opacity="1"/></g><path d="M408.7 311.5V504H643V311.5" fill="none" stroke="#262626" stroke-opacity="0.7" stroke-width="0.6"/><path d="M408.7 311.5h2.3M643 311.5h-2.3M408.7 330.8h2.3M643 330.8h-2.3M408.7 350h2.3M643 350h-2.3M408.7 369.2h2.3M643 369.2h-2.3M408.7 388.5h2.3M643 388.5h-2.3M408.7 407.8h2.3M643 407.8h-2.3M408.7 427h2.3M643 427h-2.3M408.7 446.2h2.3M643 446.2h-2.3M408.7 465.5h2.3M643 465.5h-2.3M408.7 484.8h2.3M643 484.8h-2.3M408.7 504h2.3M643 504h-2.3M447.8 504v-2.3M486.8 504v-2.3M525.9 504v-2.3M564.9 504v-2.3M604 504v-2.3M643 504v-2.3" fill="none" stroke="#262626" stroke-opacity="0.75" stroke-width="0.6"/><path d="M408.7 311.4H643" stroke="#000" stroke-width="1.9" fill="none"/><path d="M408.7 407.5H445.8V504" stroke="#000" stroke-width="1.8" fill="none" stroke-linejoin="miter"/><path d="M444.9 503.1H643" stroke="#000" stroke-width="1.7" fill="none"/><text class="t" x="405.1" y="334.6" text-anchor="end">0.8</text><text class="t" x="405.1" y="373.1" text-anchor="end">0.4</text><text class="t" x="405.1" y="411.6" text-anchor="end">0</text><text class="t" x="405.1" y="450.1" text-anchor="end">-0.4</text><text class="t" x="405.1" y="488.6" text-anchor="end">-0.8</text><text class="t" x="448.1" y="518" text-anchor="middle">0</text><text class="t" x="487.1" y="518" text-anchor="middle">0.1</text><text class="t" x="526.1" y="518" text-anchor="middle">0.2</text><text class="t" x="565.2" y="518" text-anchor="middle">0.3</text><text class="t" x="604.2" y="518" text-anchor="middle">0.4</text><text class="t" x="643.3" y="518" text-anchor="middle">0.5</text><text class="m" x="526.1" y="536.6" text-anchor="middle">x</text><text class="m" transform="translate(376.8 406.6) rotate(-90)" text-anchor="middle">y</text><text class="ti" x="464.3" y="301.9" textLength="123.3" lengthAdjust="spacingAndGlyphs">Kn = 20, DVM</text><text class="pl" x="638.5" y="307" text-anchor="middle">(d)</text><rect x="655.8" y="310.9" width="9.9" height="192.9" fill="url(#cbg)" stroke="#262626" stroke-opacity="0.5" stroke-width="0.5"/><text class="t c" x="669" y="507.8">0</text><text class="t c" x="669" y="469.3">0.1</text><text class="t c" x="669" y="430.8">0.2</text><text class="t c" x="669" y="392.3">0.3</text><text class="t c" x="669" y="353.8">0.4</text><text class="t c" x="669" y="315.3">0.5</text><path d="M665.7 465.5h-1.8M665.7 427h-1.8M665.7 388.5h-1.8M665.7 350h-1.8" fill="none" stroke="#262626" stroke-opacity="0.7" stroke-width="0.6"/></g>
<g><rect x="34.7" y="705.2" width="38" height="101.5" fill="#fff"/><g clip-path="url(#cpe)" fill="none" stroke="#000" stroke-opacity="0.9" stroke-width="0.7"><path d="M35.2 610.8 119 610.8 127.4 610.8 135.8 610.8 142.5 610.8 148.4 610.8 152.6 610.8 156.8 610.8 162.7 610.8 169.4 610.9 177.8 610.9 190.4 611 206.8 611 223.1 611.1 239.4 611.2 255.7 611.3 272 611.4M35.2 615.8 117.1 615.8 125.3 615.8 133.4 615.8 139.9 615.8 145.6 615.8 149.7 615.8 153.7 615.8 159.4 615.8 165.9 615.9 174 615.9 186.2 616 203.4 616.1 220.5 616.2 237.7 616.3 254.8 616.4 272 616.5M35.2 620.8 115.3 620.8 123.1 620.8 131 620.8 137.3 620.8 142.8 620.8 146.7 620.8 150.6 620.8 156.1 620.9 162.4 620.9 170.3 621 182 621.1 200 621.3 218 621.4 236 621.6 254 621.8 272 622M35.2 625.8 113.4 625.8 121 625.8 128.6 625.8 134.6 625.8 139.9 625.8 143.7 625.8 147.5 625.9 152.8 625.9 158.9 626 166.5 626.1 177.8 626.3 196.7 626.6 215.5 626.9 234.3 627.2 253.2 627.5 272 627.9M35.2 630.8 111.6 630.8 118.9 630.8 126.2 630.8 132 630.8 137.1 630.8 140.8 630.9 144.4 630.9 149.5 631 155.4 631 162.7 631.2 173.6 631.4 193.3 631.8 213 632.2 232.7 632.7 252.3 633.1 272 633.6M35.2 635.8 109.7 635.8 116.7 635.8 123.8 635.8 129.4 635.8 134.3 635.8 137.8 635.9 141.3 635.9 146.2 636 151.9 636.1 158.9 636.2 169.4 636.5 189.9 637 210.5 637.6 231 638.2 251.5 638.8 272 639.4M35.2 640.8 107.9 640.8 114.6 640.8 121.4 640.8 126.8 640.8 131.5 640.8 134.9 640.9 138.2 640.9 143 641 148.4 641.1 155.1 641.3 165.2 641.6 186.6 642.3 207.9 643 229.3 643.7 250.6 644.5 272 645.3M35.2 645.8 106 645.8 112.5 645.8 118.9 645.8 124.1 645.8 128.7 645.9 131.9 645.9 135.1 645.9 139.7 646 144.8 646.2 151.3 646.4 161 646.7 183.2 647.5 205.4 648.4 227.6 649.2 249.8 650.1 272 651.1M35.2 650.8 104.1 650.8 110.3 650.8 116.5 650.8 121.5 650.8 125.8 650.9 128.9 650.9 132 651 136.4 651.1 141.3 651.2 147.5 651.5 156.8 651.9 179.9 652.9 202.9 654 225.9 655.1 249 656.3 272 657.5M35.2 655.8 102.3 655.8 108.2 655.8 114.1 655.8 118.9 655.8 123 655.9 126 655.9 128.9 656 133.1 656.1 137.8 656.3 143.7 656.5 152.6 657 176.5 658.2 200.4 659.5 224.2 660.8 248.1 662.2 272 663.7M35.2 660.8 100.4 660.8 106.1 660.8 111.7 660.8 116.2 660.8 120.2 660.9 123 660.9 125.8 661 129.8 661.1 134.3 661.3 139.9 661.6 148.4 662.1 173.1 663.6 197.8 665.2 222.6 666.8 247.3 668.5 272 670.3M35.2 665.8 98.6 665.8 104 665.8 109.3 665.8 113.6 665.8 117.4 665.9 120.1 665.9 122.7 666 126.5 666.2 130.8 666.4 136.2 666.7 144.2 667.2 169.8 668.9 195.3 670.7 220.9 672.7 246.4 674.6 272 676.7M35.2 670.8 96.7 670.8 101.8 670.8 106.9 670.8 111 670.8 114.5 670.9 117.1 671 119.6 671 123.2 671.2 127.3 671.4 132.4 671.7 140 672.3 166.4 674.3 192.8 676.5 219.2 678.7 245.6 681.1 272 683.5M35.2 675.8 94.9 675.8 99.7 675.8 104.5 675.8 108.4 675.8 111.7 675.9 114.1 675.9 116.5 676 119.9 676.2 123.8 676.4 128.6 676.7 135.8 677.3 163 679.5 190.3 681.9 217.5 684.4 244.8 687 272 689.7M35.2 680.8 93 680.8 97.6 680.8 102.1 680.8 105.7 680.8 108.9 680.9 111.2 681 113.4 681.1 116.6 681.2 120.3 681.5 124.8 681.8 131.6 682.4 159.7 685.1 187.8 687.9 215.8 691 243.9 694.1 272 697.3M35.2 685.8 91.2 685.8 95.4 685.8 99.7 685.8 103.1 685.8 106.1 685.9 108.2 686 110.3 686.1 113.3 686.3 116.7 686.6 121 686.9 127.4 687.6 156.3 690.9 185.2 694.5 214.2 698.2 243.1 702.1 272 706M35.2 690.8 89.3 690.8 93.3 690.8 97.3 690.8 100.5 690.8 103.3 690.9 105.3 691 107.2 691.2 110 691.4 113.2 691.7 117.2 692.2 123.2 693 153 697.3 182.7 702.1 212.5 707 242.2 712.2 272 717.4M35.2 695.8 87.5 695.8 91.2 695.8 94.9 695.8 97.8 695.9 100.4 696 102.3 696.1 104.1 696.3 106.7 696.6 109.7 697 113.4 697.6 119 698.6 149.6 704.8 180.2 711.6 210.8 718.8 241.4 726.2 272 733.7M35.2 700.8 85.6 700.8 89 700.8 92.5 700.8 95.2 700.9 97.6 701.1 99.3 701.2 101.1 701.5 103.5 701.9 106.2 702.5 109.6 703.3 114.8 704.7 146.2 714.4 177.7 725.1 209.1 736.3 240.6 747.8 272 759.7M75.5 705.2C78.1 705.7 85.8 705.7 91.3 708.4C96.8 711.1 103 715.8 108.8 721.5C114.6 727.2 120.5 735.9 126.3 742.6C132.1 749.3 138 756.5 143.8 761.8C149.7 767 154.5 770.5 161.4 774.1C168.3 777.8 176.1 781 185 783.7C193.9 786.4 205 788.8 215 790.5C225 792.2 235.5 793.2 245 794C254.5 794.8 267.5 795.2 272 795.4M74.6 705.6C76.8 706.4 83.6 706.9 87.8 710.1C92 713.3 95.6 718.4 100 725C104.4 731.6 109.4 742 114.1 749.6C118.8 757.2 123.4 765.1 128.1 770.6C132.8 776.1 136.8 779.4 142.1 782.8C147.3 786.1 152.4 788.7 159.6 790.7C166.8 792.8 173.3 793.9 185 795.1C196.7 796.4 215.5 797.5 230 798.2C244.5 798.9 265 799 272 799.2M74.5 706C75.8 707.1 79.7 708.5 82.5 712.8C85.3 717.1 88.4 724.4 91.3 732C94.2 739.6 97.4 750.4 100 758.3C102.6 766.2 104.4 773.4 107 779.3C109.6 785.1 112.3 789.9 115.8 793.4C119.3 796.9 122 798.8 128.1 800.4C134.2 802 128.6 802.5 152.6 803C176.6 803.5 252.1 803.5 272 803.6"/><path d="M74.4 706.6C75.5 708.5 78.6 711.4 80.8 718C83 724.6 85.8 737.2 87.8 746C89.8 754.8 91.4 763.3 93 770.6C94.6 777.9 95.8 784.6 97.4 789.9C99 795.1 101.3 799.7 102.7 802.1C104.1 804.5 105.5 804.1 106 804.5" stroke-width="1.1" stroke-opacity="0.95"/><path d="M74.3 707C75.2 709 77.8 712.5 79.7 719.3C81.7 726 84.1 738.7 86 747.5C87.9 756.3 89.5 764.8 91 772C92.5 779.2 93.8 785.9 95.2 791C96.6 796.1 98.4 800.2 99.6 802.5C100.8 804.8 101.8 804.2 102.3 804.5" stroke-width="1.1" stroke-opacity="0.95"/><path d="M76.9 714.5C77.5 713.6 78.8 716 79.9 718C81 720.1 82.2 723.3 83.4 726.8C84.6 730.3 85.8 734.7 86.9 739C88 743.4 89 748.4 89.9 753.1C90.8 757.7 91.6 762.7 92.2 767.1C92.7 771.5 93.2 775.5 93.4 779.3C93.5 783.1 93.5 786.8 93 789.9C92.5 792.9 91.7 795.7 90.4 797.7C89.1 799.8 86.9 802 85.1 802.1C83.4 802.3 81.2 800.7 79.9 798.6C78.6 796.6 77.8 795.1 77.3 789.9C76.7 784.6 76.6 775.3 76.4 767.1C76.2 758.9 76.1 748.1 76 740.8C76 733.5 76.1 727.7 76.2 723.3C76.4 718.9 76.3 715.4 76.9 714.5Z" stroke-width="2.0" stroke-opacity="1"/><path d="M77 714.7C77.6 713.8 78.8 716.1 79.9 718.1C80.9 720 82.1 723.1 83.2 726.5C84.3 729.9 85.5 734.2 86.6 738.4C87.6 742.6 88.6 747.4 89.4 751.9C90.2 756.4 91 761.2 91.6 765.5C92.1 769.7 92.6 773.7 92.8 777.3C92.9 781 92.9 784.5 92.4 787.5C91.9 790.5 91.2 793.1 89.9 795.1C88.7 797.1 86.6 799.2 84.9 799.4C83.2 799.5 81.1 797.9 79.9 796C78.6 794 77.9 792.6 77.4 787.5C76.8 782.4 76.7 773.4 76.5 765.5C76.3 757.6 76.2 747.1 76.2 740.1C76.2 733 76.2 727.4 76.3 723.1C76.5 718.9 76.4 715.5 77 714.7Z" stroke-width="1.0" stroke-opacity="1"/><path d="M77.1 714.8C77.7 714 78.9 716.2 79.8 718.1C80.8 720 82 723 83 726.3C84.1 729.5 85.2 733.6 86.2 737.7C87.2 741.8 88.1 746.4 88.9 750.8C89.7 755.2 90.5 759.8 91 763.9C91.5 768 92 771.8 92.1 775.3C92.3 778.9 92.3 782.3 91.8 785.1C91.4 788 90.6 790.6 89.4 792.5C88.2 794.4 86.2 796.5 84.6 796.6C83 796.7 81 795.2 79.8 793.3C78.6 791.4 78 790 77.4 785.1C76.9 780.2 76.8 771.5 76.6 763.9C76.5 756.3 76.4 746.2 76.3 739.4C76.3 732.5 76.4 727.1 76.5 723C76.6 718.9 76.6 715.6 77.1 714.8Z" stroke-width="1.0" stroke-opacity="1"/><path d="M77.2 715C77.8 714.2 78.9 716.3 79.8 718.1C80.7 720 81.8 722.9 82.8 726C83.9 729.2 84.9 733.1 85.9 737.1C86.8 741 87.7 745.5 88.5 749.7C89.2 753.9 89.9 758.3 90.4 762.3C90.9 766.2 91.4 769.9 91.5 773.3C91.6 776.7 91.6 780 91.2 782.8C90.8 785.5 90.1 788 88.9 789.9C87.8 791.7 85.9 793.7 84.4 793.8C82.8 794 80.9 792.5 79.8 790.7C78.7 788.8 78 787.5 77.5 782.8C77 778.1 77 769.6 76.8 762.3C76.6 754.9 76.5 745.2 76.5 738.6C76.4 732.1 76.5 726.8 76.6 722.9C76.7 718.9 76.7 715.8 77.2 715Z" stroke-width="1.0" stroke-opacity="1"/><path d="M77.3 715.1C77.8 714.4 78.9 716.4 79.8 718.2C80.7 720 81.7 722.7 82.7 725.8C83.6 728.8 84.7 732.6 85.5 736.4C86.4 740.2 87.3 744.5 88 748.5C88.7 752.6 89.4 756.9 89.9 760.7C90.3 764.5 90.8 768 90.9 771.3C91 774.6 91 777.8 90.6 780.4C90.2 783.1 89.5 785.5 88.4 787.3C87.3 789 85.5 790.9 84.1 791.1C82.7 791.2 80.9 789.8 79.8 788C78.7 786.3 78.1 785 77.6 780.4C77.1 775.9 77.1 767.8 76.9 760.7C76.7 753.6 76.6 744.2 76.6 737.9C76.6 731.6 76.6 726.5 76.8 722.7C76.9 718.9 76.8 715.9 77.3 715.1Z" stroke-width="1.0" stroke-opacity="1"/><path d="M77.4 715.3C77.9 714.6 78.9 716.5 79.8 718.2C80.6 719.9 81.6 722.6 82.5 725.5C83.4 728.4 84.4 732.1 85.2 735.7C86 739.4 86.8 743.5 87.5 747.4C88.2 751.3 88.8 755.4 89.3 759.1C89.7 762.7 90.1 766.2 90.2 769.3C90.4 772.5 90.4 775.5 90 778.1C89.6 780.6 89 782.9 87.9 784.6C86.9 786.3 85.2 788.2 83.8 788.3C82.5 788.4 80.8 787.1 79.8 785.4C78.7 783.7 78.2 782.5 77.7 778.1C77.3 773.7 77.2 765.9 77 759.1C76.9 752.3 76.8 743.3 76.8 737.2C76.7 731.1 76.8 726.2 76.9 722.6C77 718.9 77 716 77.4 715.3Z" stroke-width="1.0" stroke-opacity="1"/><path d="M77.5 715.5C78 714.8 78.9 716.6 79.7 718.3C80.5 719.9 81.4 722.5 82.3 725.3C83.2 728.1 84.1 731.6 84.9 735.1C85.7 738.6 86.4 742.6 87.1 746.3C87.7 750 88.3 754 88.7 757.5C89.1 761 89.5 764.3 89.6 767.3C89.7 770.3 89.7 773.3 89.4 775.7C89 778.2 88.4 780.4 87.4 782C86.5 783.7 84.9 785.4 83.6 785.5C82.3 785.6 80.7 784.4 79.7 782.7C78.8 781.1 78.2 779.9 77.8 775.7C77.4 771.5 77.3 764 77.2 757.5C77 751 76.9 742.3 76.9 736.5C76.9 730.6 76.9 726 77 722.5C77.1 719 77.1 716.2 77.5 715.5Z" stroke-width="1.0" stroke-opacity="1"/><path d="M77.6 715.6C78.1 714.9 79 716.7 79.7 718.3C80.4 719.9 81.3 722.3 82.1 725C82.9 727.7 83.8 731.1 84.5 734.4C85.3 737.8 86 741.6 86.6 745.2C87.2 748.7 87.7 752.5 88.1 755.9C88.6 759.3 88.9 762.4 89 765.3C89.1 768.2 89.1 771 88.8 773.4C88.4 775.7 87.8 777.8 86.9 779.4C86 781 84.5 782.7 83.3 782.8C82.1 782.9 80.6 781.6 79.7 780.1C78.8 778.5 78.3 777.4 77.9 773.4C77.5 769.3 77.4 762.2 77.3 755.9C77.1 749.6 77.1 741.4 77 735.8C77 730.2 77.1 725.7 77.2 722.3C77.3 719 77.2 716.3 77.6 715.6Z" stroke-width="1.0" stroke-opacity="1"/><path d="M77.8 715.8C78.1 715.1 79 716.8 79.7 718.3C80.4 719.8 81.2 722.2 81.9 724.8C82.7 727.3 83.5 730.5 84.2 733.8C84.9 737 85.5 740.6 86.1 744C86.7 747.5 87.2 751.1 87.6 754.3C88 757.5 88.3 760.5 88.4 763.3C88.5 766.1 88.5 768.8 88.1 771C87.8 773.3 87.3 775.3 86.4 776.8C85.6 778.3 84.2 779.9 83.1 780C81.9 780.1 80.5 778.9 79.7 777.4C78.8 775.9 78.4 774.9 78 771C77.6 767.2 77.5 760.3 77.4 754.3C77.3 748.3 77.2 740.4 77.2 735C77.2 729.7 77.2 725.4 77.3 722.2C77.4 719 77.4 716.4 77.8 715.8Z" stroke-width="1.0" stroke-opacity="1"/><path d="M77.9 715.9C78.2 715.3 79 716.9 79.6 718.4C80.3 719.8 81 722.1 81.7 724.5C82.4 727 83.2 730 83.9 733.1C84.5 736.2 85.1 739.6 85.6 742.9C86.2 746.2 86.7 749.6 87 752.7C87.4 755.8 87.7 758.6 87.7 761.3C87.8 764 87.8 766.5 87.5 768.7C87.2 770.8 86.7 772.7 86 774.2C85.2 775.6 83.9 777.1 82.8 777.2C81.7 777.3 80.4 776.2 79.6 774.8C78.9 773.4 78.4 772.3 78.1 768.7C77.7 765 77.7 758.4 77.5 752.7C77.4 747 77.4 739.4 77.3 734.3C77.3 729.2 77.4 725.1 77.4 722.1C77.5 719 77.5 716.5 77.9 715.9Z" stroke-width="1.0" stroke-opacity="1"/></g><path d="M35.2 605.8V805.7H272V605.8" fill="none" stroke="#262626" stroke-opacity="0.7" stroke-width="0.6"/><path d="M35.2 605.8h2.3M272 605.8h-2.3M35.2 625.8h2.3M272 625.8h-2.3M35.2 645.8h2.3M272 645.8h-2.3M35.2 665.8h2.3M272 665.8h-2.3M35.2 685.8h2.3M272 685.8h-2.3M35.2 705.8h2.3M272 705.8h-2.3M35.2 725.7h2.3M272 725.7h-2.3M35.2 745.7h2.3M272 745.7h-2.3M35.2 765.7h2.3M272 765.7h-2.3M35.2 785.7h2.3M272 785.7h-2.3M35.2 805.7h2.3M272 805.7h-2.3M74.7 805.7v-2.3M114.1 805.7v-2.3M153.6 805.7v-2.3M193.1 805.7v-2.3M232.5 805.7v-2.3M272 805.7v-2.3" fill="none" stroke="#262626" stroke-opacity="0.75" stroke-width="0.6"/><path d="M35.2 605.7H272" stroke="#000" stroke-width="1.9" fill="none"/><path d="M35.2 705.2H72.7V805.7" stroke="#000" stroke-width="1.8" fill="none" stroke-linejoin="miter"/><path d="M71.8 804.8H272" stroke="#000" stroke-width="1.7" fill="none"/><text class="t" x="31.6" y="629.7" text-anchor="end">0.8</text><text class="t" x="31.6" y="669.7" text-anchor="end">0.4</text><text class="t" x="31.6" y="709.6" text-anchor="end">0</text><text class="t" x="31.6" y="749.6" text-anchor="end">-0.4</text><text class="t" x="31.6" y="789.6" text-anchor="end">-0.8</text><text class="t" x="75" y="819.4" text-anchor="middle">0</text><text class="t" x="114.4" y="819.4" text-anchor="middle">0.1</text><text class="t" x="153.9" y="819.4" text-anchor="middle">0.2</text><text class="t" x="193.4" y="819.4" text-anchor="middle">0.3</text><text class="t" x="232.8" y="819.4" text-anchor="middle">0.4</text><text class="t" x="272.3" y="819.4" text-anchor="middle">0.5</text><text class="m" x="153.9" y="831.4" text-anchor="middle">x</text><text class="m" transform="translate(8.8 704.5) rotate(-90)" text-anchor="middle">y</text><text class="ti" x="71.6" y="596.6" textLength="163.8" lengthAdjust="spacingAndGlyphs">Kn = 10, asymptotic</text><text class="pl" x="267.1" y="600.5" text-anchor="middle">(e)</text><rect x="284.4" y="605.2" width="9.9" height="200.3" fill="url(#cbg)" stroke="#262626" stroke-opacity="0.5" stroke-width="0.5"/><text class="t c" x="297.6" y="809.5">0</text><text class="t c" x="297.6" y="769.5">0.1</text><text class="t c" x="297.6" y="729.5">0.2</text><text class="t c" x="297.6" y="689.6">0.3</text><text class="t c" x="297.6" y="649.6">0.4</text><text class="t c" x="297.6" y="609.6">0.5</text><path d="M294.3 765.7h-1.8M294.3 725.7h-1.8M294.3 685.8h-1.8M294.3 645.8h-1.8" fill="none" stroke="#262626" stroke-opacity="0.7" stroke-width="0.6"/></g>
<g><rect x="403.5" y="703.7" width="38.5" height="97.1" fill="#fff"/><g clip-path="url(#cpf)" fill="none" stroke="#000" stroke-opacity="0.75" stroke-width="0.45"><path d="M404 611.8 489.4 611.8 497.9 611.8 506.5 611.8 513.4 611.8 519.4 611.8 523.6 611.8 527.9 611.9 533.9 611.9 540.8 611.9 549.3 611.9 562.2 612 578.8 612.1 595.4 612.2 612.1 612.2 628.7 612.3 645.3 612.4M404 616.6 487.5 616.6 495.8 616.6 504.1 616.6 510.7 616.6 516.5 616.7 520.6 616.7 524.8 616.7 530.6 616.7 537.2 616.7 545.5 616.8 557.9 616.8 575.4 616.9 592.9 617 610.3 617.1 627.8 617.2 645.3 617.3M404 621.5 485.6 621.5 493.6 621.5 501.6 621.5 508 621.5 513.6 621.5 517.6 621.5 521.6 621.5 527.2 621.6 533.6 621.6 541.6 621.7 553.6 621.8 572 621.9 590.3 622.1 608.6 622.3 627 622.4 645.3 622.6M404 626.3 483.7 626.3 491.4 626.3 499.2 626.3 505.3 626.3 510.7 626.3 514.6 626.4 518.5 626.4 523.9 626.4 530 626.5 537.8 626.6 549.3 626.8 568.5 627.1 587.7 627.4 606.9 627.7 626.1 628 645.3 628.3M404 631.1 481.8 631.1 489.3 631.1 496.7 631.1 502.7 631.1 507.9 631.2 511.6 631.2 515.3 631.2 520.5 631.3 526.5 631.4 533.9 631.5 545.1 631.7 565.1 632.1 585.2 632.5 605.2 633 625.3 633.4 645.3 633.8M404 635.9 479.9 635.9 487.1 635.9 494.2 635.9 500 636 505 636 508.6 636 512.1 636.1 517.2 636.2 522.9 636.3 530 636.4 540.8 636.7 561.7 637.2 582.6 637.7 603.5 638.3 624.4 638.8 645.3 639.4M404 640.7 478 640.7 484.9 640.7 491.8 640.8 497.3 640.8 502.1 640.8 505.5 640.9 509 640.9 513.8 641 519.3 641.1 526.2 641.3 536.5 641.6 558.3 642.3 580 643 601.8 643.7 623.5 644.4 645.3 645.1M404 645.6 476.1 645.6 482.7 645.6 489.3 645.6 494.6 645.6 499.2 645.7 502.5 645.7 505.8 645.8 510.4 645.9 515.7 646 522.3 646.2 532.2 646.5 554.8 647.3 577.4 648.2 600.1 649 622.7 649.8 645.3 650.7M404 650.4 474.3 650.4 480.6 650.4 486.9 650.4 491.9 650.4 496.4 650.5 499.5 650.5 502.7 650.6 507.1 650.7 512.1 650.9 518.5 651.2 527.9 651.5 551.4 652.6 574.9 653.6 598.4 654.7 621.8 655.8 645.3 656.8M404 655.2 472.4 655.2 478.4 655.2 484.4 655.2 489.3 655.3 493.5 655.3 496.5 655.4 499.5 655.5 503.7 655.6 508.6 655.8 514.6 656 523.6 656.5 548 657.7 572.3 659 596.6 660.2 621 661.5 645.3 662.8M404 660 470.5 660 476.2 660 482 660.1 486.6 660.1 490.6 660.2 493.5 660.2 496.4 660.3 500.4 660.5 505 660.7 510.7 661 519.4 661.5 544.5 662.9 569.7 664.5 594.9 666 620.1 667.6 645.3 669.2M404 664.8 468.6 664.8 474.1 664.9 479.5 664.9 483.9 664.9 487.7 665 490.5 665.1 493.2 665.1 497 665.3 501.4 665.5 506.9 665.9 515.1 666.4 541.1 668.1 567.2 669.9 593.2 671.7 619.3 673.5 645.3 675.3M404 669.7 466.7 669.7 471.9 669.7 477.1 669.7 481.2 669.7 484.9 669.8 487.4 669.9 490 670 493.7 670.2 497.8 670.4 503 670.8 510.8 671.3 537.7 673.3 564.6 675.4 591.5 677.6 618.4 679.7 645.3 681.9M404 674.5 464.8 674.5 469.7 674.5 474.6 674.5 478.5 674.6 482 674.6 484.4 674.7 486.9 674.8 490.3 675 494.2 675.2 499.2 675.6 506.5 676.1 534.3 678.4 562 680.7 589.8 683.1 617.5 685.5 645.3 687.9M404 679.3 462.9 679.3 467.5 679.3 472.2 679.3 475.9 679.4 479.1 679.5 481.4 679.6 483.7 679.7 487 679.9 490.7 680.1 495.3 680.5 502.2 681.1 530.8 683.8 559.5 686.6 588.1 689.4 616.7 692.3 645.3 695.2M404 684.1 461 684.1 465.4 684.1 469.7 684.2 473.2 684.2 476.2 684.3 478.4 684.4 480.6 684.5 483.6 684.8 487.1 685.1 491.4 685.5 497.9 686.2 527.4 689.5 556.9 693 586.4 696.5 615.8 700.1 645.3 703.7M404 688.9 459.1 688.9 463.2 689 467.3 689 470.5 689.1 473.4 689.2 475.4 689.3 477.4 689.4 480.3 689.7 483.5 690.1 487.6 690.6 493.7 691.4 524 695.9 554.3 700.4 584.6 705.1 615 709.9 645.3 714.7M404 693.8 457.2 693.8 461 693.8 464.8 693.8 467.8 693.9 470.5 694.1 472.4 694.2 474.3 694.4 476.9 694.7 479.9 695.2 483.7 695.9 489.4 697 520.6 703.3 551.7 709.9 582.9 716.7 614.1 723.5 645.3 730.4M404 698.6 455.4 698.6 458.9 698.6 462.4 698.7 465.2 698.8 467.6 699 469.4 699.2 471.1 699.5 473.6 700 476.3 700.6 479.8 701.6 485.1 703.1 517.1 713.1 549.2 723.4 581.2 733.9 613.3 744.6 645.3 755.5M444.5 703.8C447.1 704.5 455.3 705.2 460.3 708.1C465.3 711 469.6 716.2 474.3 721.3C479 726.4 483.3 733 488.3 738.8C493.3 744.6 498.6 751 504.1 756.3C509.7 761.5 515.8 766.3 521.6 770.3C527.4 774.2 533.7 777.5 539.1 780C544.5 782.5 545.5 783.2 554 785.2C562.5 787.2 579 790.3 590 791.8C601 793.3 610.8 793.7 620 794.3C629.2 794.9 641.1 795.1 645.3 795.2M443.6 704.6C445.2 706.2 450.2 709.2 453.3 714.3C456.4 719.4 458.8 726.8 462 735.3C465.2 743.8 469.3 757.2 472.5 765.1C475.7 773 478.1 777.9 481.3 782.6C484.5 787.3 487.4 790.6 491.8 793.1C496.2 795.6 501.2 796.5 507.6 797.5C514 798.5 515 798.6 530.4 798.9C545.8 799.2 588.4 799.2 600 799.3M443.5 705.5C444.8 707.5 448.7 711.4 451.5 717.8C454.3 724.2 457.4 735.2 460.3 744C463.2 752.8 466.4 763 469 770.3C471.6 777.6 473.4 783.5 476 787.9C478.6 792.3 481.6 794.8 484.8 796.6C488 798.5 489.4 798.5 495.3 799C501.2 799.5 515.9 799.3 520 799.4M443.4 705.9C444.6 708.2 448.1 712.9 450.6 719.5C453.1 726.1 456.1 737.6 458.5 745.8C460.9 754 462.9 761.9 464.7 768.6C466.4 775.3 467.6 781.4 469 786.1C470.4 790.8 471.9 794.4 473.4 796.6C474.9 798.8 477.1 798.8 477.8 799.3"/><path d="M445.6 708.1C446.2 707.4 447.6 709.5 448.9 711.6C450.2 713.8 451.8 717.6 453.3 721.3C454.7 724.9 456.4 729.2 457.7 733.5C458.9 737.9 459.9 743.2 460.6 747.6C461.4 751.9 461.9 756.3 462 759.8C462.1 763.3 461.7 766.1 461.2 768.6C460.6 771.1 459.5 773.4 458.5 774.7C457.6 776 456.5 776.6 455.4 776.5C454.2 776.3 452.6 775.7 451.5 773.8C450.4 771.9 449.7 769.5 448.9 765.1C448.1 760.7 447.2 753.4 446.6 747.6C446.1 741.7 445.8 735.3 445.6 730C445.3 724.8 445.2 719.7 445.2 716C445.2 712.4 444.9 708.9 445.6 708.1Z" stroke-width="2.3" stroke-opacity="1"/><path d="M445.9 709.2C446.5 708.5 447.8 710.4 448.9 712.5C450.1 714.6 451.5 718.2 452.9 721.7C454.2 725.1 455.7 729.2 456.8 733.3C457.9 737.5 458.8 742.5 459.5 746.6C460.1 750.8 460.7 755 460.7 758.3C460.8 761.6 460.5 764.3 459.9 766.6C459.4 769 458.4 771.2 457.6 772.4C456.7 773.7 455.8 774.2 454.7 774.1C453.7 774 452.2 773.4 451.3 771.6C450.3 769.8 449.6 767.4 448.9 763.3C448.2 759.1 447.4 752.2 446.9 746.6C446.4 741.1 446.1 735 445.9 730C445.7 725 445.6 720.1 445.6 716.7C445.6 713.2 445.4 709.9 445.9 709.2Z" stroke-width="1.2" stroke-opacity="1"/><path d="M445.5 708C446.1 707.4 447.7 709.4 449 711.6C450.3 713.9 452 717.6 453.5 721.3C455 725 456.7 729.3 458 733.8C459.2 738.2 460.3 743.5 461.1 748C461.8 752.5 462.4 757.2 462.5 760.9C462.7 764.7 462.4 767.8 461.8 770.6C461.2 773.3 460.2 775.9 459.1 777.4C458 778.9 456.6 779.5 455.2 779.3C453.9 779.2 452.1 778.5 451 776.7C449.8 774.8 449.2 772.6 448.4 768.1C447.6 763.7 446.8 756.1 446.3 749.7C445.8 743.4 445.6 735.7 445.4 730C445.2 724.3 445.1 719.3 445.1 715.6C445.1 711.9 444.8 708.7 445.5 708Z" stroke-width="0.6" stroke-opacity="1"/><path d="M445.4 707.9C446.1 707.3 447.7 709.4 449.1 711.6C450.5 713.9 452.2 717.6 453.7 721.3C455.2 725 457 729.5 458.3 734C459.6 738.5 460.7 743.8 461.5 748.4C462.3 753.1 462.9 758 463 762C463.2 766 463 769.5 462.4 772.5C461.9 775.5 460.8 778.5 459.6 780.1C458.4 781.7 456.6 782.3 455.1 782.2C453.5 782.1 451.6 781.4 450.4 779.5C449.2 777.7 448.6 775.8 447.9 771.2C447.1 766.6 446.4 758.8 446 751.9C445.6 745.1 445.4 736.2 445.2 730C445 723.9 445 718.8 445 715.1C445 711.5 444.7 708.5 445.4 707.9Z" stroke-width="0.6" stroke-opacity="1"/><path d="M445.3 707.8C446 707.3 447.8 709.4 449.2 711.6C450.7 713.9 452.4 717.5 453.9 721.3C455.5 725 457.3 729.6 458.6 734.2C460 738.8 461.1 744.1 461.9 748.9C462.8 753.7 463.4 758.8 463.5 763.1C463.7 767.4 463.6 771.2 463.1 774.5C462.5 777.8 461.5 781 460.2 782.8C458.8 784.6 456.6 785.1 454.9 785.1C453.2 785 451.1 784.2 449.9 782.4C448.6 780.6 448.1 779 447.4 774.3C446.7 769.6 446.1 761.5 445.7 754.1C445.3 746.8 445.2 736.6 445 730C444.9 723.5 444.8 718.4 444.9 714.7C444.9 711 444.6 708.3 445.3 707.8Z" stroke-width="0.6" stroke-opacity="1"/><path d="M445.2 707.7C446 707.3 447.8 709.4 449.3 711.6C450.8 713.9 452.5 717.5 454.1 721.3C455.8 725.1 457.6 729.7 459 734.4C460.3 739.1 461.5 744.3 462.4 749.3C463.2 754.3 463.8 759.7 464 764.2C464.3 768.7 464.2 772.9 463.7 776.5C463.1 780 462.2 783.6 460.7 785.5C459.2 787.4 456.7 788 454.8 787.9C452.9 787.9 450.6 787 449.3 785.2C448 783.5 447.5 782.2 446.9 777.3C446.2 772.5 445.7 764.2 445.4 756.3C445.1 748.4 445 737 444.9 730C444.8 723 444.7 718 444.8 714.3C444.8 710.5 444.5 708.1 445.2 707.7Z" stroke-width="0.6" stroke-opacity="1"/><path d="M445.1 707.6C445.9 707.2 447.9 709.4 449.4 711.6C451 713.9 452.7 717.4 454.4 721.3C456 725.1 457.9 729.9 459.3 734.6C460.7 739.4 461.9 744.6 462.8 749.7C463.7 754.9 464.3 760.5 464.5 765.3C464.8 770.1 464.9 774.6 464.3 778.4C463.8 782.2 462.9 786.1 461.3 788.2C459.6 790.2 456.7 790.8 454.6 790.8C452.5 790.8 450.2 789.8 448.8 788.1C447.4 786.3 447 785.3 446.4 780.4C445.8 775.5 445.4 766.9 445.1 758.5C444.8 750.1 444.8 737.5 444.7 730C444.6 722.6 444.6 717.6 444.7 713.8C444.7 710.1 444.3 708 445.1 707.6Z" stroke-width="0.6" stroke-opacity="1"/><path d="M445 707.5C445.9 707.2 448 709.3 449.5 711.6C451.1 713.9 452.9 717.4 454.6 721.3C456.3 725.1 458.2 730 459.6 734.9C461.1 739.7 462.4 744.9 463.3 750.2C464.2 755.4 464.8 761.4 465.1 766.4C465.3 771.4 465.5 776.3 465 780.4C464.4 784.5 463.6 788.7 461.8 790.9C460.1 793.1 456.7 793.7 454.5 793.7C452.2 793.7 449.7 792.6 448.2 790.9C446.8 789.2 446.4 788.5 445.9 783.5C445.3 778.4 445 769.6 444.8 760.7C444.5 751.8 444.5 737.9 444.5 730C444.5 722.2 444.5 717.2 444.6 713.4C444.6 709.6 444.2 707.8 445 707.5Z" stroke-width="0.6" stroke-opacity="1"/><path d="M444.9 707.4C445.8 707.2 448 709.3 449.7 711.6C451.3 714 453.1 717.4 454.8 721.3C456.5 725.2 458.5 730.2 460 735.1C461.4 740 462.8 745.2 463.7 750.6C464.6 756 465.2 762.2 465.6 767.5C465.9 772.8 466.1 778 465.6 782.4C465.1 786.7 464.2 791.2 462.4 793.6C460.5 795.9 456.7 796.5 454.3 796.5C451.9 796.6 449.2 795.4 447.7 793.8C446.2 792.1 445.9 791.7 445.4 786.5C444.8 781.4 444.6 772.3 444.5 762.9C444.3 753.5 444.3 738.4 444.3 730C444.3 721.7 444.3 716.7 444.4 713C444.5 709.2 444.1 707.6 444.9 707.4Z" stroke-width="0.6" stroke-opacity="1"/><path d="M444.9 707.3C445.8 707.1 448.1 709.3 449.8 711.6C451.5 714 453.3 717.3 455 721.3C456.8 725.2 458.8 730.3 460.3 735.3C461.8 740.3 463.2 745.5 464.1 751.1C465.1 756.6 465.7 763 466.1 768.6C466.4 774.1 466.8 779.7 466.2 784.3C465.7 789 464.9 793.8 462.9 796.3C460.9 798.8 456.8 799.4 454.1 799.4C451.5 799.5 448.7 798.2 447.1 796.6C445.6 795 445.4 794.9 444.9 789.6C444.4 784.3 444.3 775 444.2 765.1C444 755.1 444.1 738.8 444.2 730C444.2 721.3 444.2 716.3 444.3 712.5C444.5 708.7 444 707.4 444.9 707.3Z" stroke-width="0.6" stroke-opacity="1"/></g><path d="M404 607V799.8H645.3V607" fill="none" stroke="#262626" stroke-opacity="0.7" stroke-width="0.6"/><path d="M404 607h2.3M645.3 607h-2.3M404 626.3h2.3M645.3 626.3h-2.3M404 645.6h2.3M645.3 645.6h-2.3M404 664.8h2.3M645.3 664.8h-2.3M404 684.1h2.3M645.3 684.1h-2.3M404 703.4h2.3M645.3 703.4h-2.3M404 722.7h2.3M645.3 722.7h-2.3M404 742h2.3M645.3 742h-2.3M404 761.2h2.3M645.3 761.2h-2.3M404 780.5h2.3M645.3 780.5h-2.3M404 799.8h2.3M645.3 799.8h-2.3M444.2 799.8v-2.3M484.4 799.8v-2.3M524.7 799.8v-2.3M564.9 799.8v-2.3M605.1 799.8v-2.3M645.3 799.8v-2.3" fill="none" stroke="#262626" stroke-opacity="0.75" stroke-width="0.6"/><path d="M404 606.9H645.3" stroke="#000" stroke-width="1.9" fill="none"/><path d="M404 703.7H442V799.8" stroke="#000" stroke-width="1.8" fill="none" stroke-linejoin="miter"/><path d="M441.1 798.9H645.3" stroke="#000" stroke-width="1.7" fill="none"/><text class="t" x="400.4" y="630.2" text-anchor="end">0.8</text><text class="t" x="400.4" y="668.7" text-anchor="end">0.4</text><text class="t" x="400.4" y="707.3" text-anchor="end">0</text><text class="t" x="400.4" y="745.9" text-anchor="end">-0.4</text><text class="t" x="400.4" y="784.4" text-anchor="end">-0.8</text><text class="t" x="444.5" y="813.8" text-anchor="middle">0</text><text class="t" x="484.7" y="813.8" text-anchor="middle">0.1</text><text class="t" x="525" y="813.8" text-anchor="middle">0.2</text><text class="t" x="565.2" y="813.8" text-anchor="middle">0.3</text><text class="t" x="605.4" y="813.8" text-anchor="middle">0.4</text><text class="t" x="645.6" y="813.8" text-anchor="middle">0.5</text><text class="m" x="524.9" y="832.4" text-anchor="middle">x</text><text class="m" transform="translate(376.8 702.2) rotate(-90)" text-anchor="middle">y</text><text class="ti" x="463.3" y="597.7" textLength="122.8" lengthAdjust="spacingAndGlyphs">Kn = 10, DVM</text><text class="pl" x="641.8" y="602" text-anchor="middle">(f)</text><rect x="657.5" y="606.4" width="11" height="193.2" fill="url(#cbg)" stroke="#262626" stroke-opacity="0.5" stroke-width="0.5"/><text class="t c" x="671.6" y="803.6">0</text><text class="t c" x="671.6" y="765">0.1</text><text class="t c" x="671.6" y="726.5">0.2</text><text class="t c" x="671.6" y="687.9">0.3</text><text class="t c" x="671.6" y="649.4">0.4</text><text class="t c" x="671.6" y="610.8">0.5</text><path d="M668.5 761.2h-1.8M668.5 722.7h-1.8M668.5 684.1h-1.8M668.5 645.6h-1.8" fill="none" stroke="#262626" stroke-opacity="0.7" stroke-width="0.6"/></g>
</svg>
</div>
</body></html>
